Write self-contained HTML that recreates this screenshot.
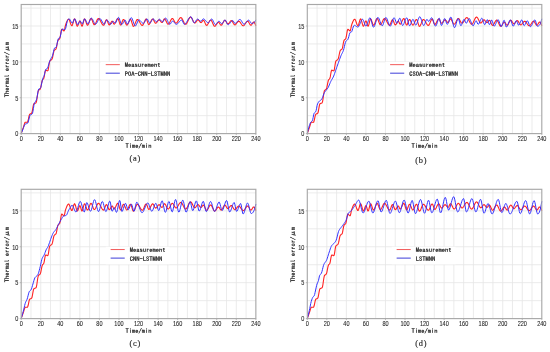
<!DOCTYPE html>
<html><head><meta charset="utf-8"><title>Thermal error</title>
<style>html,body{margin:0;padding:0;background:#fff;width:550px;height:352px;overflow:hidden}svg{display:block}</style>
</head><body>
<svg width="550" height="352" viewBox="0 0 550 352" shape-rendering="geometricPrecision">
<rect width="550" height="352" fill="#fff"/>
<g><path d="M30.98 4.5V133.6M40.75 4.5V133.6M50.53 4.5V133.6M60.31 4.5V133.6M70.09 4.5V133.6M79.86 4.5V133.6M89.64 4.5V133.6M99.42 4.5V133.6M109.19 4.5V133.6M118.97 4.5V133.6M128.75 4.5V133.6M138.53 4.5V133.6M148.3 4.5V133.6M158.08 4.5V133.6M167.86 4.5V133.6M177.63 4.5V133.6M187.41 4.5V133.6M197.19 4.5V133.6M206.96 4.5V133.6M216.74 4.5V133.6M226.52 4.5V133.6M236.3 4.5V133.6M246.07 4.5V133.6M21.2 115.67H255.85M21.2 97.74H255.85M21.2 79.81H255.85M21.2 61.88H255.85M21.2 43.95H255.85M21.2 26.02H255.85M21.2 8.09H255.85" stroke="#e6e6e6" stroke-width="0.8" fill="none"/>
<rect x="100.83" y="61.85" width="73.64" height="17.6" fill="#fff"/>
<polyline points="21.2,133.6 21.69,132.18 22.18,130.79 22.67,129.4 23.16,128.04 23.64,126.6 24.13,124.89 24.62,123.32 25.11,122.37 25.6,122.28 26.09,122.29 26.58,122.32 27.07,122.33 27.56,122.2 28.04,120.8 28.53,118.55 29.02,116.2 29.51,114.54 30,114.02 30.49,113.8 30.98,113.64 31.47,113.39 31.95,112.59 32.44,110.28 32.93,107.34 33.42,104.83 33.91,103.76 34.4,103.48 34.89,103.31 35.38,103.16 35.87,102.91 36.35,102.09 36.84,99.53 37.33,96.1 37.82,92.83 38.31,90.75 38.8,90.15 39.29,89.84 39.78,89.53 40.27,88.97 40.75,87.4 41.24,85.03 41.73,82.51 42.22,80.5 42.71,79.56 43.2,79.17 43.69,78.66 44.18,76.91 44.67,74.02 45.15,71.32 45.64,70.13 46.13,70.22 46.62,70.43 47.11,70.67 47.6,70.83 48.09,70.31 48.58,67.72 49.06,64.33 49.55,61.68 50.04,60.77 50.53,60.35 51.02,60.05 51.51,59.7 52,59.15 52.49,57.77 52.98,55.49 53.46,53.02 53.95,51.05 54.44,50.18 54.93,49.81 55.42,49.52 55.91,49.09 56.4,47.83 56.89,45.3 57.38,42.52 57.86,40.56 58.35,39.86 58.84,39.46 59.33,39.07 59.82,38.36 60.31,36.23 60.8,33.17 61.29,30.43 61.77,29.24 62.26,29.46 62.75,29.97 63.24,30.54 63.73,30.95 64.22,30.82 64.71,28.94 65.2,26.35 65.69,24.54 66.17,23.25 66.66,22.01 67.15,20.9 67.64,20.01 68.13,19.42 68.62,19.2 69.11,19.6 69.6,20.64 70.09,22.02 70.57,23.49 71.06,24.76 71.55,25.58 72.04,25.63 72.53,24.65 73.02,23.02 73.51,21.2 74,19.65 74.49,18.87 74.97,19.25 75.46,20.64 75.95,22.54 76.44,24.43 76.93,25.82 77.42,26.21 77.91,25.51 78.4,24.16 78.88,22.62 79.37,21.38 79.86,20.85 80.35,21.56 80.84,23.18 81.33,24.95 81.82,26.11 82.31,25.96 82.8,24.56 83.28,22.54 83.77,20.52 84.26,19.12 84.75,18.92 85.24,19.73 85.73,21.12 86.22,22.71 86.71,24.17 87.2,25.12 87.68,25.24 88.17,24.63 88.66,23.54 89.15,22.18 89.64,20.77 90.13,19.55 90.62,18.72 91.11,18.5 91.6,19 92.08,20.02 92.57,21.33 93.06,22.69 93.55,23.85 94.04,24.59 94.53,24.68 95.02,24.27 95.51,23.49 95.99,22.49 96.48,21.38 96.97,20.31 97.46,19.38 97.95,18.73 98.44,18.49 98.93,18.67 99.42,19.15 99.91,19.86 100.39,20.73 100.88,21.7 101.37,22.67 101.86,23.59 102.35,24.38 102.84,24.96 103.33,25.27 103.82,25.14 104.31,24.32 104.79,23.06 105.28,21.68 105.77,20.48 106.26,19.78 106.75,19.86 107.24,20.68 107.73,21.92 108.22,23.26 108.7,24.36 109.19,24.92 109.68,24.75 110.17,24.12 110.66,23.23 111.15,22.3 111.64,21.53 112.13,21.15 112.62,21.49 113.1,22.56 113.59,23.69 114.08,24.22 114.57,23.95 115.06,23.24 115.55,22.24 116.04,21.13 116.53,20.04 117.02,19.14 117.5,18.59 117.99,18.58 118.48,19.46 118.97,20.97 119.46,22.67 119.95,24.18 120.44,25.06 120.93,24.98 121.42,24.09 121.9,22.73 122.39,21.27 122.88,20.06 123.37,19.44 123.86,19.63 124.35,20.36 124.84,21.44 125.33,22.65 125.81,23.81 126.3,24.71 126.79,25.14 127.28,24.97 127.77,24.3 128.26,23.29 128.75,22.14 129.24,21 129.73,20.04 130.21,19.45 130.7,19.43 131.19,20.31 131.68,21.82 132.17,23.56 132.66,25.14 133.15,26.18 133.64,26.33 134.13,25.81 134.61,24.87 135.1,23.67 135.59,22.37 136.08,21.15 136.57,20.14 137.06,19.53 137.55,19.45 138.04,19.73 138.53,20.26 139.01,20.98 139.5,21.81 139.99,22.7 140.48,23.56 140.97,24.33 141.46,24.95 141.95,25.34 142.44,25.43 142.92,25.03 143.41,24.21 143.9,23.1 144.39,21.89 144.88,20.72 145.37,19.76 145.86,19.17 146.35,19.15 146.84,19.98 147.32,21.36 147.81,22.87 148.3,24.09 148.79,24.58 149.28,24.34 149.77,23.71 150.26,22.81 150.75,21.79 151.24,20.76 151.72,19.86 152.21,19.23 152.7,18.99 153.19,19.3 153.68,20.11 154.17,21.14 154.66,22.17 155.15,22.98 155.63,23.29 156.12,23.1 156.61,22.61 157.1,21.94 157.59,21.2 158.08,20.53 158.57,20.04 159.06,19.85 159.55,20.04 160.03,20.52 160.52,21.15 161.01,21.79 161.5,22.31 161.99,22.57 162.48,22.29 162.97,21.39 163.46,20.25 163.95,19.26 164.43,18.84 164.92,19.1 165.41,19.76 165.9,20.69 166.39,21.75 166.88,22.77 167.37,23.61 167.86,24.13 168.35,24.19 168.83,23.81 169.32,23.13 169.81,22.24 170.3,21.25 170.79,20.28 171.28,19.42 171.77,18.79 172.26,18.49 172.74,18.64 173.23,19.18 173.72,19.98 174.21,20.91 174.7,21.83 175.19,22.59 175.68,23.06 176.17,23.12 176.66,22.85 177.14,22.34 177.63,21.65 178.12,20.85 178.61,20.01 179.1,19.2 179.59,18.49 180.08,17.94 180.57,17.61 181.06,17.59 181.54,17.93 182.03,18.57 182.52,19.43 183.01,20.41 183.5,21.44 183.99,22.42 184.48,23.28 184.97,23.92 185.46,24.26 185.94,24.22 186.43,23.8 186.92,23.08 187.41,22.16 187.9,21.1 188.39,20.03 188.88,19 189.37,18.11 189.85,17.44 190.34,17.09 190.83,17.13 191.32,17.57 191.81,18.31 192.3,19.22 192.79,20.23 193.28,21.22 193.77,22.07 194.25,22.7 194.74,23 195.23,22.87 195.72,22.38 196.21,21.69 196.7,20.94 197.19,20.28 197.68,19.86 198.17,19.81 198.65,20.17 199.14,20.79 199.63,21.5 200.12,22.14 200.61,22.57 201.1,22.6 201.59,22.22 202.08,21.6 202.56,20.93 203.05,20.43 203.54,20.29 204.03,20.75 204.52,21.69 205.01,22.86 205.5,24.03 205.99,24.97 206.48,25.43 206.96,25.31 207.45,24.8 207.94,24.05 208.43,23.13 208.92,22.18 209.41,21.29 209.9,20.57 210.39,20.14 210.88,20.11 211.36,20.54 211.85,21.35 212.34,22.39 212.83,23.53 213.32,24.62 213.81,25.54 214.3,26.14 214.79,26.3 215.28,26.04 215.76,25.5 216.25,24.78 216.74,23.99 217.23,23.22 217.72,22.6 218.21,22.22 218.7,22.19 219.19,22.67 219.67,23.46 220.16,24.32 220.65,25.01 221.14,25.3 221.63,25.06 222.12,24.44 222.61,23.57 223.1,22.59 223.59,21.64 224.07,20.85 224.56,20.36 225.05,20.32 225.54,20.75 226.03,21.48 226.52,22.33 227.01,23.13 227.5,23.7 227.99,23.86 228.47,23.61 228.96,23.11 229.45,22.46 229.94,21.77 230.43,21.17 230.92,20.75 231.41,20.64 231.9,20.95 232.38,21.58 232.87,22.4 233.36,23.28 233.85,24.07 234.34,24.65 234.83,24.87 235.32,24.71 235.81,24.3 236.3,23.71 236.78,23.04 237.27,22.37 237.76,21.79 238.25,21.37 238.74,21.21 239.23,21.36 239.72,21.77 240.21,22.36 240.7,23.06 241.18,23.81 241.67,24.52 242.16,25.14 242.65,25.59 243.14,25.79 243.63,25.7 244.12,25.32 244.61,24.75 245.1,24.04 245.58,23.28 246.07,22.54 246.56,21.9 247.05,21.43 247.54,21.22 248.03,21.37 248.52,21.92 249.01,22.72 249.49,23.61 249.98,24.45 250.47,25.06 250.96,25.3 251.45,25.01 251.94,24.3 252.43,23.42 252.92,22.61 253.41,22.12 253.89,22.14 254.38,22.58 254.87,23.37 255.36,24.45 255.85,25.8" stroke="#ff2222" stroke-width="1.1" fill="none" stroke-linejoin="round"/>
<polyline points="21.2,133.6 21.69,132.36 22.18,131.13 22.67,129.92 23.16,128.72 23.64,127.38 24.13,125.97 24.62,124.8 25.11,124.21 25.6,123.95 26.09,123.8 26.58,123.67 27.07,123.52 27.56,123.26 28.04,122.55 28.53,120.95 29.02,118.91 29.51,116.91 30,115.41 30.49,114.81 30.98,114.56 31.47,114.4 31.95,114.17 32.44,113.6 32.93,111.53 33.42,108.5 33.91,105.43 34.4,103.23 34.89,102.29 35.38,101.63 35.87,100.84 36.35,99.9 36.84,98.28 37.33,95.69 37.82,92.82 38.31,90.34 38.8,88.94 39.29,88.69 39.78,88.59 40.27,88.41 40.75,87.5 41.24,85.6 41.73,83.21 42.22,80.81 42.71,78.88 43.2,77.68 43.69,76.7 44.18,75.42 44.67,73.49 45.15,71.39 45.64,69.7 46.13,69 46.62,68.86 47.11,68.69 47.6,67.97 48.09,66.59 48.58,64.9 49.06,63.24 49.55,61.84 50.04,60.46 50.53,59.31 51.02,58.45 51.51,57.7 52,56.89 52.49,55.76 52.98,53.91 53.46,51.7 53.95,49.63 54.44,48.18 54.93,47.76 55.42,47.66 55.91,47.53 56.4,46.65 56.89,44.76 57.38,42.43 57.86,40.2 58.35,38.61 58.84,38.13 59.33,38.02 59.82,37.85 60.31,36.63 60.8,34.16 61.29,31.45 61.77,29.49 62.26,29.11 62.75,29.17 63.24,29.28 63.73,29.4 64.22,29.52 64.71,29.59 65.2,29.48 65.69,28.26 66.17,26.18 66.66,23.78 67.15,21.58 67.64,20.14 68.13,19.51 68.62,19.04 69.11,18.84 69.6,19.11 70.09,19.79 70.57,20.7 71.06,21.67 71.55,22.51 72.04,23.05 72.53,23.05 73.02,22.19 73.51,20.85 74,19.57 74.49,18.87 74.97,19.07 75.46,19.89 75.95,21.07 76.44,22.36 76.93,23.54 77.42,24.35 77.91,24.56 78.4,23.98 78.88,22.9 79.37,21.79 79.86,21.08 80.35,21.13 80.84,21.8 81.33,22.71 81.82,23.52 82.31,23.86 82.8,23.26 83.28,21.84 83.77,20.24 84.26,19.08 84.75,18.89 85.24,19.4 85.73,20.28 86.22,21.35 86.71,22.43 87.2,23.31 87.68,23.81 88.17,23.75 88.66,23.14 89.15,22.16 89.64,21 90.13,19.83 90.62,18.85 91.11,18.24 91.6,18.17 92.08,18.58 92.57,19.34 93.06,20.31 93.55,21.39 94.04,22.44 94.53,23.35 95.02,23.99 95.51,24.22 95.99,24.02 96.48,23.47 96.97,22.67 97.46,21.74 97.95,20.77 98.44,19.86 98.93,19.11 99.42,18.62 99.91,18.49 100.39,18.77 100.88,19.35 101.37,20.14 101.86,21.07 102.35,22.02 102.84,22.9 103.33,23.63 103.82,24.09 104.31,24.2 104.79,23.64 105.28,22.57 105.77,21.34 106.26,20.34 106.75,19.92 107.24,20.1 107.73,20.57 108.22,21.23 108.7,21.99 109.19,22.77 109.68,23.46 110.17,23.97 110.66,24.22 111.15,23.99 111.64,23.25 112.13,22.33 112.62,21.58 113.1,21.37 113.59,21.68 114.08,22.25 114.57,22.82 115.06,23.13 115.55,22.93 116.04,22.16 116.53,21.03 117.02,19.78 117.5,18.61 117.99,17.75 118.48,17.41 118.97,17.85 119.46,18.99 119.95,20.51 120.44,22.12 120.93,23.52 121.42,24.42 121.9,24.54 122.39,24.13 122.88,23.39 123.37,22.49 123.86,21.57 124.35,20.79 124.84,20.3 125.33,20.3 125.81,21.15 126.3,22.44 126.79,23.64 127.28,24.15 127.77,23.89 128.26,23.18 128.75,22.17 129.24,21.01 129.73,19.83 130.21,18.78 130.7,18.01 131.19,17.64 131.68,17.85 132.17,18.66 132.66,19.89 133.15,21.36 133.64,22.88 134.13,24.28 134.61,25.36 135.1,25.96 135.59,25.9 136.08,25.28 136.57,24.27 137.06,23.05 137.55,21.83 138.04,20.77 138.53,20.05 139.01,19.86 139.5,20.02 139.99,20.39 140.48,20.89 140.97,21.46 141.46,22.06 141.95,22.61 142.44,23.06 142.92,23.36 143.41,23.43 143.9,23.11 144.39,22.46 144.88,21.6 145.37,20.68 145.86,19.82 146.35,19.17 146.84,18.85 147.32,19.05 147.81,19.76 148.3,20.75 148.79,21.79 149.28,22.64 149.77,23.06 150.26,22.9 150.75,22.3 151.24,21.44 151.72,20.48 152.21,19.62 152.7,19.02 153.19,18.85 153.68,19.08 154.17,19.55 154.66,20.15 155.15,20.77 155.63,21.31 156.12,21.65 156.61,21.68 157.1,21.4 157.59,20.92 158.08,20.34 158.57,19.78 159.06,19.37 159.55,19.2 160.03,19.4 160.52,19.89 161.01,20.53 161.5,21.17 161.99,21.66 162.48,21.86 162.97,21.63 163.46,21.04 163.95,20.24 164.43,19.41 164.92,18.68 165.41,18.21 165.9,18.17 166.39,18.61 166.88,19.42 167.37,20.46 167.86,21.59 168.35,22.68 168.83,23.6 169.32,24.2 169.81,24.36 170.3,24.02 170.79,23.36 171.28,22.55 171.77,21.78 172.26,21.23 172.74,21.08 173.23,21.3 173.72,21.77 174.21,22.39 174.7,23.05 175.19,23.66 175.68,24.14 176.17,24.36 176.66,24.3 177.14,24.07 177.63,23.69 178.12,23.2 178.61,22.65 179.1,22.06 179.59,21.48 180.08,20.96 180.57,20.51 181.06,20.18 181.54,20.01 182.03,20.15 182.52,20.98 183.01,22.18 183.5,23.38 183.99,24.21 184.48,24.35 184.97,24.13 185.46,23.71 185.94,23.13 186.43,22.43 186.92,21.63 187.41,20.79 187.9,19.93 188.39,19.1 188.88,18.34 189.37,17.68 189.85,17.15 190.34,16.81 190.83,16.69 191.32,17.05 191.81,17.96 192.3,19.2 192.79,20.54 193.28,21.73 193.77,22.55 194.25,22.78 194.74,22.5 195.23,21.91 195.72,21.16 196.21,20.37 196.7,19.67 197.19,19.2 197.68,19.07 198.17,19.25 198.65,19.63 199.14,20.12 199.63,20.62 200.12,21.02 200.61,21.26 201.1,21.19 201.59,20.73 202.08,20.06 202.56,19.4 203.05,18.94 203.54,18.87 204.03,19.06 204.52,19.43 205.01,19.92 205.5,20.49 205.99,21.08 206.48,21.64 206.96,22.14 207.45,22.5 207.94,22.7 208.43,22.65 208.92,22.28 209.41,21.68 209.9,20.96 210.39,20.24 210.88,19.6 211.36,19.18 211.85,19.07 212.34,19.45 212.83,20.24 213.32,21.26 213.81,22.38 214.3,23.41 214.79,24.19 215.28,24.57 215.76,24.47 216.25,24.08 216.74,23.5 217.23,22.83 217.72,22.17 218.21,21.61 218.7,21.28 219.19,21.25 219.67,21.57 220.16,22.12 220.65,22.76 221.14,23.34 221.63,23.72 222.12,23.74 222.61,23.28 223.1,22.48 223.59,21.53 224.07,20.65 224.56,20.03 225.05,19.86 225.54,20.3 226.03,21.18 226.52,22.29 227.01,23.39 227.5,24.27 227.99,24.71 228.47,24.64 228.96,24.32 229.45,23.82 229.94,23.21 230.43,22.55 230.92,21.88 231.41,21.28 231.9,20.82 232.38,20.54 232.87,20.56 233.36,21.15 233.85,22.06 234.34,22.94 234.83,23.42 235.32,23.37 235.81,23.11 236.3,22.72 236.78,22.22 237.27,21.66 237.76,21.08 238.25,20.53 238.74,20.05 239.23,19.68 239.72,19.45 240.21,19.45 240.7,19.81 241.18,20.44 241.67,21.25 242.16,22.14 242.65,22.98 243.14,23.66 243.63,24.07 244.12,24.13 244.61,23.93 245.1,23.55 245.58,23.04 246.07,22.45 246.56,21.84 247.05,21.25 247.54,20.74 248.03,20.36 248.52,20.16 249.01,20.23 249.49,20.72 249.98,21.46 250.47,22.27 250.96,22.98 251.45,23.39 251.94,23.42 252.43,23.35 252.92,23.2 253.41,22.95 253.89,22.61 254.38,22.14 254.87,21.55 255.36,20.81 255.85,19.92" stroke="#3333ff" stroke-width="1.0" fill="none" stroke-linejoin="round"/>
<path d="M105.72 64.65H119.83" stroke="#f04848" stroke-width="0.9"/>
<path d="M105.72 73.25H119.83" stroke="#7474e4" stroke-width="1.4"/>
<text transform="translate(124.83 66.65) scale(1 0.92)" style="font-family:'IPAGothic','Liberation Mono',monospace;font-size:6.5px;stroke:#262626;stroke-width:0.26px" fill="#262626">Measurement</text>
<text transform="translate(124.83 75.6) scale(1 0.92)" style="font-family:'IPAGothic','Liberation Mono',monospace;font-size:6.5px;stroke:#262626;stroke-width:0.26px" fill="#262626">POA-CNN-LSTMNN</text>
<rect x="21.2" y="4.5" width="234.65" height="129.1" stroke="#a8a8a8" stroke-width="1.15" fill="none"/>
<path d="M21.2 133.6v1.5M40.75 133.6v1.5M60.31 133.6v1.5M79.86 133.6v1.5M99.42 133.6v1.5M118.97 133.6v1.5M138.53 133.6v1.5M158.08 133.6v1.5M177.63 133.6v1.5M197.19 133.6v1.5M216.74 133.6v1.5M236.3 133.6v1.5M255.85 133.6v1.5M21.2 133.6h-1.5M21.2 97.74h-1.5M21.2 61.88h-1.5M21.2 26.02h-1.5" stroke="#a8a8a8" stroke-width="0.8"/>
<text transform="translate(21.2 141.45) scale(0.88 1)" text-anchor="middle" style="font-family:'Liberation Sans',Arial,sans-serif;font-size:6.3px;stroke:#262626;stroke-width:0.08px" fill="#262626">0</text>
<text transform="translate(40.75 141.45) scale(0.88 1)" text-anchor="middle" style="font-family:'Liberation Sans',Arial,sans-serif;font-size:6.3px;stroke:#262626;stroke-width:0.08px" fill="#262626">20</text>
<text transform="translate(60.31 141.45) scale(0.88 1)" text-anchor="middle" style="font-family:'Liberation Sans',Arial,sans-serif;font-size:6.3px;stroke:#262626;stroke-width:0.08px" fill="#262626">40</text>
<text transform="translate(79.86 141.45) scale(0.88 1)" text-anchor="middle" style="font-family:'Liberation Sans',Arial,sans-serif;font-size:6.3px;stroke:#262626;stroke-width:0.08px" fill="#262626">60</text>
<text transform="translate(99.42 141.45) scale(0.88 1)" text-anchor="middle" style="font-family:'Liberation Sans',Arial,sans-serif;font-size:6.3px;stroke:#262626;stroke-width:0.08px" fill="#262626">80</text>
<text transform="translate(118.97 141.45) scale(0.88 1)" text-anchor="middle" style="font-family:'Liberation Sans',Arial,sans-serif;font-size:6.3px;stroke:#262626;stroke-width:0.08px" fill="#262626">100</text>
<text transform="translate(138.53 141.45) scale(0.88 1)" text-anchor="middle" style="font-family:'Liberation Sans',Arial,sans-serif;font-size:6.3px;stroke:#262626;stroke-width:0.08px" fill="#262626">120</text>
<text transform="translate(158.08 141.45) scale(0.88 1)" text-anchor="middle" style="font-family:'Liberation Sans',Arial,sans-serif;font-size:6.3px;stroke:#262626;stroke-width:0.08px" fill="#262626">140</text>
<text transform="translate(177.63 141.45) scale(0.88 1)" text-anchor="middle" style="font-family:'Liberation Sans',Arial,sans-serif;font-size:6.3px;stroke:#262626;stroke-width:0.08px" fill="#262626">160</text>
<text transform="translate(197.19 141.45) scale(0.88 1)" text-anchor="middle" style="font-family:'Liberation Sans',Arial,sans-serif;font-size:6.3px;stroke:#262626;stroke-width:0.08px" fill="#262626">180</text>
<text transform="translate(216.74 141.45) scale(0.88 1)" text-anchor="middle" style="font-family:'Liberation Sans',Arial,sans-serif;font-size:6.3px;stroke:#262626;stroke-width:0.08px" fill="#262626">200</text>
<text transform="translate(236.3 141.45) scale(0.88 1)" text-anchor="middle" style="font-family:'Liberation Sans',Arial,sans-serif;font-size:6.3px;stroke:#262626;stroke-width:0.08px" fill="#262626">220</text>
<text transform="translate(255.85 141.45) scale(0.88 1)" text-anchor="middle" style="font-family:'Liberation Sans',Arial,sans-serif;font-size:6.3px;stroke:#262626;stroke-width:0.08px" fill="#262626">240</text>
<text transform="translate(18.3 136.4) scale(0.88 1)" text-anchor="end" style="font-family:'Liberation Sans',Arial,sans-serif;font-size:6.3px;stroke:#262626;stroke-width:0.08px" fill="#262626">0</text>
<text transform="translate(18.3 100.54) scale(0.88 1)" text-anchor="end" style="font-family:'Liberation Sans',Arial,sans-serif;font-size:6.3px;stroke:#262626;stroke-width:0.08px" fill="#262626">5</text>
<text transform="translate(18.3 64.68) scale(0.88 1)" text-anchor="end" style="font-family:'Liberation Sans',Arial,sans-serif;font-size:6.3px;stroke:#262626;stroke-width:0.08px" fill="#262626">10</text>
<text transform="translate(18.3 28.82) scale(0.88 1)" text-anchor="end" style="font-family:'Liberation Sans',Arial,sans-serif;font-size:6.3px;stroke:#262626;stroke-width:0.08px" fill="#262626">15</text>
<text transform="translate(138.53 148) scale(1 0.92)" text-anchor="middle" style="font-family:'IPAGothic','Liberation Mono',monospace;font-size:6.5px;stroke:#262626;stroke-width:0.26px" fill="#262626">Time/min</text>
<text transform="translate(8.9 69.65) rotate(-90) scale(1 0.92)" text-anchor="middle" style="font-family:'IPAGothic','Liberation Mono',monospace;font-size:6.5px;stroke:#262626;stroke-width:0.26px" fill="#262626">Thermal error/μm</text>
<text x="135.22" y="161" text-anchor="middle" style="font-family:'Liberation Serif','Times New Roman',serif;font-size:8.3px;letter-spacing:0.7px;stroke:#262626;stroke-width:0.15px" fill="#262626">(a)</text></g>
<g><path d="M317.07 4.5V133.6M326.84 4.5V133.6M336.61 4.5V133.6M346.38 4.5V133.6M356.15 4.5V133.6M365.93 4.5V133.6M375.7 4.5V133.6M385.47 4.5V133.6M395.24 4.5V133.6M405.01 4.5V133.6M414.78 4.5V133.6M424.55 4.5V133.6M434.32 4.5V133.6M444.09 4.5V133.6M453.86 4.5V133.6M463.63 4.5V133.6M473.4 4.5V133.6M483.17 4.5V133.6M492.95 4.5V133.6M502.72 4.5V133.6M512.49 4.5V133.6M522.26 4.5V133.6M532.03 4.5V133.6M307.3 115.67H541.8M307.3 97.74H541.8M307.3 79.81H541.8M307.3 61.88H541.8M307.3 43.95H541.8M307.3 26.02H541.8M307.3 8.09H541.8" stroke="#e6e6e6" stroke-width="0.8" fill="none"/>
<rect x="385.22" y="61.85" width="76.9" height="17.6" fill="#fff"/>
<polyline points="307.3,133.6 307.79,132.18 308.28,130.79 308.77,129.4 309.25,128.04 309.74,126.6 310.23,124.89 310.72,123.32 311.21,122.37 311.7,122.28 312.19,122.29 312.67,122.32 313.16,122.33 313.65,122.2 314.14,120.8 314.63,118.55 315.12,116.2 315.61,114.54 316.09,114.02 316.58,113.8 317.07,113.64 317.56,113.39 318.05,112.59 318.54,110.28 319.03,107.34 319.51,104.83 320,103.76 320.49,103.48 320.98,103.31 321.47,103.16 321.96,102.91 322.44,102.09 322.93,99.53 323.42,96.1 323.91,92.83 324.4,90.75 324.89,90.15 325.38,89.84 325.86,89.53 326.35,88.97 326.84,87.4 327.33,85.03 327.82,82.51 328.31,80.5 328.8,79.56 329.28,79.17 329.77,78.66 330.26,76.91 330.75,74.02 331.24,71.32 331.73,70.13 332.22,70.22 332.7,70.43 333.19,70.67 333.68,70.83 334.17,70.31 334.66,67.72 335.15,64.33 335.64,61.68 336.12,60.77 336.61,60.35 337.1,60.05 337.59,59.7 338.08,59.15 338.57,57.77 339.06,55.49 339.54,53.02 340.03,51.05 340.52,50.18 341.01,49.81 341.5,49.52 341.99,49.09 342.48,47.83 342.96,45.3 343.45,42.52 343.94,40.56 344.43,39.86 344.92,39.46 345.41,39.07 345.89,38.36 346.38,36.23 346.87,33.17 347.36,30.43 347.85,29.24 348.34,29.46 348.83,29.97 349.31,30.54 349.8,30.95 350.29,30.82 350.78,28.94 351.27,26.35 351.76,24.54 352.25,23.25 352.73,22.01 353.22,20.9 353.71,20.01 354.2,19.42 354.69,19.2 355.18,19.6 355.67,20.64 356.15,22.02 356.64,23.49 357.13,24.76 357.62,25.58 358.11,25.63 358.6,24.65 359.09,23.02 359.57,21.2 360.06,19.65 360.55,18.87 361.04,19.25 361.53,20.64 362.02,22.54 362.51,24.43 362.99,25.82 363.48,26.21 363.97,25.51 364.46,24.16 364.95,22.62 365.44,21.38 365.93,20.85 366.41,21.56 366.9,23.18 367.39,24.95 367.88,26.11 368.37,25.96 368.86,24.56 369.34,22.54 369.83,20.52 370.32,19.12 370.81,18.92 371.3,19.73 371.79,21.12 372.28,22.71 372.76,24.17 373.25,25.12 373.74,25.24 374.23,24.63 374.72,23.54 375.21,22.18 375.7,20.77 376.18,19.55 376.67,18.72 377.16,18.5 377.65,19 378.14,20.02 378.63,21.33 379.12,22.69 379.6,23.85 380.09,24.59 380.58,24.68 381.07,24.27 381.56,23.49 382.05,22.49 382.54,21.38 383.02,20.31 383.51,19.38 384,18.73 384.49,18.49 384.98,18.67 385.47,19.15 385.96,19.86 386.44,20.73 386.93,21.7 387.42,22.67 387.91,23.59 388.4,24.38 388.89,24.96 389.38,25.27 389.86,25.14 390.35,24.32 390.84,23.06 391.33,21.68 391.82,20.48 392.31,19.78 392.79,19.86 393.28,20.68 393.77,21.92 394.26,23.26 394.75,24.36 395.24,24.92 395.73,24.75 396.21,24.12 396.7,23.23 397.19,22.3 397.68,21.53 398.17,21.15 398.66,21.49 399.15,22.56 399.63,23.69 400.12,24.22 400.61,23.95 401.1,23.24 401.59,22.24 402.08,21.13 402.57,20.04 403.05,19.14 403.54,18.59 404.03,18.58 404.52,19.46 405.01,20.97 405.5,22.67 405.99,24.18 406.47,25.06 406.96,24.98 407.45,24.09 407.94,22.73 408.43,21.27 408.92,20.06 409.41,19.44 409.89,19.63 410.38,20.36 410.87,21.44 411.36,22.65 411.85,23.81 412.34,24.71 412.82,25.14 413.31,24.97 413.8,24.3 414.29,23.29 414.78,22.14 415.27,21 415.76,20.04 416.24,19.45 416.73,19.43 417.22,20.31 417.71,21.82 418.2,23.56 418.69,25.14 419.18,26.18 419.66,26.33 420.15,25.81 420.64,24.87 421.13,23.67 421.62,22.37 422.11,21.15 422.6,20.14 423.08,19.53 423.57,19.45 424.06,19.73 424.55,20.26 425.04,20.98 425.53,21.81 426.02,22.7 426.5,23.56 426.99,24.33 427.48,24.95 427.97,25.34 428.46,25.43 428.95,25.03 429.44,24.21 429.92,23.1 430.41,21.89 430.9,20.72 431.39,19.76 431.88,19.17 432.37,19.15 432.86,19.98 433.34,21.36 433.83,22.87 434.32,24.09 434.81,24.58 435.3,24.34 435.79,23.71 436.27,22.81 436.76,21.79 437.25,20.76 437.74,19.86 438.23,19.23 438.72,18.99 439.21,19.3 439.69,20.11 440.18,21.14 440.67,22.17 441.16,22.98 441.65,23.29 442.14,23.1 442.63,22.61 443.11,21.94 443.6,21.2 444.09,20.53 444.58,20.04 445.07,19.85 445.56,20.04 446.05,20.52 446.53,21.15 447.02,21.79 447.51,22.31 448,22.57 448.49,22.29 448.98,21.39 449.47,20.25 449.95,19.26 450.44,18.84 450.93,19.1 451.42,19.76 451.91,20.69 452.4,21.75 452.89,22.77 453.37,23.61 453.86,24.13 454.35,24.19 454.84,23.81 455.33,23.13 455.82,22.24 456.31,21.25 456.79,20.28 457.28,19.42 457.77,18.79 458.26,18.49 458.75,18.64 459.24,19.18 459.72,19.98 460.21,20.91 460.7,21.83 461.19,22.59 461.68,23.06 462.17,23.12 462.66,22.85 463.14,22.34 463.63,21.65 464.12,20.85 464.61,20.01 465.1,19.2 465.59,18.49 466.08,17.94 466.56,17.61 467.05,17.59 467.54,17.93 468.03,18.57 468.52,19.43 469.01,20.41 469.5,21.44 469.98,22.42 470.47,23.28 470.96,23.92 471.45,24.26 471.94,24.22 472.43,23.8 472.92,23.08 473.4,22.16 473.89,21.1 474.38,20.03 474.87,19 475.36,18.11 475.85,17.44 476.34,17.09 476.82,17.13 477.31,17.57 477.8,18.31 478.29,19.22 478.78,20.23 479.27,21.22 479.76,22.07 480.24,22.7 480.73,23 481.22,22.87 481.71,22.38 482.2,21.69 482.69,20.94 483.17,20.28 483.66,19.86 484.15,19.81 484.64,20.17 485.13,20.79 485.62,21.5 486.11,22.14 486.59,22.57 487.08,22.6 487.57,22.22 488.06,21.6 488.55,20.93 489.04,20.43 489.53,20.29 490.01,20.75 490.5,21.69 490.99,22.86 491.48,24.03 491.97,24.97 492.46,25.43 492.95,25.31 493.43,24.8 493.92,24.05 494.41,23.13 494.9,22.18 495.39,21.29 495.88,20.57 496.37,20.14 496.85,20.11 497.34,20.54 497.83,21.35 498.32,22.39 498.81,23.53 499.3,24.62 499.79,25.54 500.27,26.14 500.76,26.3 501.25,26.04 501.74,25.5 502.23,24.78 502.72,23.99 503.21,23.22 503.69,22.6 504.18,22.22 504.67,22.19 505.16,22.67 505.65,23.46 506.14,24.32 506.62,25.01 507.11,25.3 507.6,25.06 508.09,24.44 508.58,23.57 509.07,22.59 509.56,21.64 510.04,20.85 510.53,20.36 511.02,20.32 511.51,20.75 512,21.48 512.49,22.33 512.98,23.13 513.46,23.7 513.95,23.86 514.44,23.61 514.93,23.11 515.42,22.46 515.91,21.77 516.4,21.17 516.88,20.75 517.37,20.64 517.86,20.95 518.35,21.58 518.84,22.4 519.33,23.28 519.82,24.07 520.3,24.65 520.79,24.87 521.28,24.71 521.77,24.3 522.26,23.71 522.75,23.04 523.24,22.37 523.72,21.79 524.21,21.37 524.7,21.21 525.19,21.36 525.68,21.77 526.17,22.36 526.66,23.06 527.14,23.81 527.63,24.52 528.12,25.14 528.61,25.59 529.1,25.79 529.59,25.7 530.07,25.32 530.56,24.75 531.05,24.04 531.54,23.28 532.03,22.54 532.52,21.9 533.01,21.43 533.49,21.22 533.98,21.37 534.47,21.92 534.96,22.72 535.45,23.61 535.94,24.45 536.43,25.06 536.91,25.3 537.4,25.01 537.89,24.3 538.38,23.42 538.87,22.61 539.36,22.12 539.85,22.14 540.33,22.58 540.82,23.37 541.31,24.45 541.8,25.8" stroke="#ff2222" stroke-width="1.1" fill="none" stroke-linejoin="round"/>
<polyline points="307.3,133.6 307.79,131.32 308.28,129.25 308.77,127.43 309.25,125.87 309.74,124.41 310.23,123.17 310.72,122.27 311.21,121.74 311.7,121.37 312.19,120.9 312.67,119.81 313.16,117.47 313.65,114.89 314.14,113.23 314.63,112.64 315.12,112.27 315.61,111.8 316.09,110.67 316.58,108.24 317.07,105.59 317.56,103.89 318.05,102.89 318.54,102.1 319.03,101.47 319.51,100.97 320,100.62 320.49,100.32 320.98,99.99 321.47,99.53 321.96,98.76 322.44,97.66 322.93,96.35 323.42,95 323.91,93.74 324.4,92.72 324.89,91.93 325.38,91.24 325.86,90.62 326.35,90.02 326.84,89.42 327.33,88.77 327.82,88.03 328.31,87.15 328.8,86.11 329.28,84.97 329.77,83.77 330.26,82.6 330.75,81.52 331.24,80.56 331.73,79.7 332.22,78.88 332.7,78.04 333.19,77.12 333.68,76.07 334.17,74.82 334.66,73.41 335.15,71.93 335.64,70.47 336.12,69.09 336.61,67.71 337.1,66.34 337.59,64.98 338.08,63.63 338.57,62.27 339.06,60.88 339.54,59.51 340.03,58.16 340.52,56.86 341.01,55.63 341.5,54.48 341.99,53.51 342.48,52.6 342.96,51.61 343.45,50.34 343.94,48.52 344.43,46.39 344.92,44.26 345.41,42.45 345.89,41.29 346.38,40.73 346.87,40.35 347.36,39.97 347.85,39.43 348.34,38.28 348.83,36.52 349.31,34.62 349.8,33.07 350.29,32.33 350.78,32.22 351.27,32.11 351.76,31.49 352.25,30.19 352.73,28.58 353.22,26.99 353.71,25.78 354.2,25.3 354.69,25.43 355.18,25.66 355.67,25.92 356.15,26.25 356.64,26.58 357.13,26.88 357.62,27.06 358.11,27.05 358.6,26.64 359.09,25.87 359.57,24.85 360.06,23.67 360.55,22.45 361.04,21.3 361.53,20.31 362.02,19.61 362.51,19.28 362.99,19.54 363.48,20.47 363.97,21.81 364.46,23.32 364.95,24.73 365.44,25.76 365.93,26.16 366.41,25.82 366.9,24.9 367.39,23.61 367.88,22.11 368.37,20.6 368.86,19.25 369.34,18.26 369.83,17.78 370.32,18.08 370.81,19.17 371.3,20.81 371.79,22.7 372.28,24.55 372.76,26.1 373.25,27.06 373.74,27.18 374.23,26.6 374.72,25.51 375.21,24.09 375.7,22.49 376.18,20.87 376.67,19.4 377.16,18.23 377.65,17.53 378.14,17.46 378.63,17.98 379.12,18.94 379.6,20.2 380.09,21.61 380.58,23.01 381.07,24.27 381.56,25.23 382.05,25.75 382.54,25.64 383.02,24.8 383.51,23.42 384,21.78 384.49,20.11 384.98,18.66 385.47,17.68 385.96,17.42 386.44,17.83 386.93,18.72 387.42,19.94 387.91,21.35 388.4,22.8 388.89,24.14 389.38,25.25 389.86,25.97 390.35,26.15 390.84,25.62 391.33,24.53 391.82,23.08 392.31,21.48 392.79,19.94 393.28,18.68 393.77,17.91 394.26,17.84 394.75,18.58 395.24,19.82 395.73,21.24 396.21,22.48 396.7,23.22 397.19,23.15 397.68,22.39 398.17,21.25 398.66,19.99 399.15,18.9 399.63,18.26 400.12,18.41 400.61,19.56 401.1,21.29 401.59,23.15 402.08,24.7 402.57,25.49 403.05,25.31 403.54,24.56 404.03,23.42 404.52,22.06 405.01,20.66 405.5,19.37 405.99,18.37 406.47,17.82 406.96,17.99 407.45,19.17 407.94,20.99 408.43,22.98 408.92,24.7 409.41,25.7 409.89,25.66 410.38,24.89 410.87,23.67 411.36,22.25 411.85,20.88 412.34,19.81 412.82,19.29 413.31,19.58 413.8,20.61 414.29,22.03 414.78,23.48 415.27,24.63 415.76,25.08 416.24,24.74 416.73,23.83 417.22,22.54 417.71,21.04 418.2,19.53 418.69,18.18 419.18,17.18 419.66,16.71 420.15,16.93 420.64,17.78 421.13,19.07 421.62,20.62 422.11,22.22 422.6,23.69 423.08,24.83 423.57,25.46 424.06,25.37 424.55,24.59 425.04,23.37 425.53,21.97 426.02,20.64 426.5,19.66 426.99,19.27 427.48,19.73 427.97,20.63 428.46,21.35 428.95,21.33 429.44,20.79 429.92,19.96 430.41,19.06 430.9,18.27 431.39,17.81 431.88,17.9 432.37,18.6 432.86,19.76 433.34,21.2 433.83,22.72 434.32,24.17 434.81,25.33 435.3,26.03 435.79,26.1 436.27,25.41 436.76,24.19 437.25,22.66 437.74,21.06 438.23,19.63 438.72,18.59 439.21,18.2 439.69,19.09 440.18,21.15 440.67,23.48 441.16,25.17 441.65,25.44 442.14,24.71 442.63,23.42 443.11,21.88 443.6,20.36 444.09,19.17 444.58,18.58 445.07,18.93 445.56,20.16 446.05,21.8 446.53,23.33 447.02,24.27 447.51,24.23 448,23.49 448.49,22.29 448.98,20.86 449.47,19.4 449.95,18.14 450.44,17.29 450.93,17.07 451.42,17.76 451.91,19.2 452.4,21.11 452.89,23.19 453.37,25.16 453.86,26.72 454.35,27.58 454.84,27.49 455.33,26.58 455.82,25.08 456.31,23.3 456.79,21.48 457.28,19.91 457.77,18.85 458.26,18.59 458.75,19.4 459.24,20.98 459.72,22.86 460.21,24.55 460.7,25.56 461.19,25.51 461.68,24.71 462.17,23.46 462.66,22.03 463.14,20.68 463.63,19.67 464.12,19.27 464.61,19.85 465.1,21.14 465.59,22.5 466.08,23.26 466.56,23.06 467.05,22.27 467.54,21.16 468.03,20 468.52,19.05 469.01,18.57 469.5,18.75 469.98,19.45 470.47,20.52 470.96,21.79 471.45,23.1 471.94,24.3 472.43,25.24 472.92,25.75 473.4,25.66 473.89,24.9 474.38,23.76 474.87,22.5 475.36,21.41 475.85,20.77 476.34,20.9 476.82,21.81 477.31,23.03 477.8,24.05 478.29,24.35 478.78,23.93 479.27,23.05 479.76,21.91 480.24,20.66 480.73,19.51 481.22,18.64 481.71,18.21 482.2,18.51 482.69,19.61 483.17,21.14 483.66,22.74 484.15,24.04 484.64,24.7 485.13,24.4 485.62,23.32 486.11,21.89 486.59,20.54 487.08,19.72 487.57,19.87 488.06,21.05 488.55,22.67 489.04,24.11 489.53,24.73 490.01,24.1 490.5,22.68 490.99,21.13 491.48,20.1 491.97,20.22 492.46,21.38 492.95,23.08 493.43,24.77 493.92,25.93 494.41,26.11 494.9,25.61 495.39,24.7 495.88,23.55 496.37,22.32 496.85,21.16 497.34,20.26 497.83,19.76 498.32,19.86 498.81,20.68 499.3,21.98 499.79,23.49 500.27,24.95 500.76,26.09 501.25,26.65 501.74,26.31 502.23,25.11 502.72,23.47 503.21,21.84 503.69,20.63 504.18,20.31 504.67,21.43 505.16,23.46 505.65,25.59 506.14,26.95 506.62,26.98 507.11,26.4 507.6,25.44 508.09,24.24 508.58,22.95 509.07,21.73 509.56,20.7 510.04,20.04 510.53,19.87 511.02,20.59 511.51,22.01 512,23.68 512.49,25.18 512.98,26.07 513.46,26.03 513.95,25.36 514.44,24.29 514.93,23.06 515.42,21.91 515.91,21.05 516.4,20.71 516.88,21.25 517.37,22.53 517.86,23.97 518.35,25.02 518.84,25.17 519.33,24.57 519.82,23.53 520.3,22.29 520.79,21.1 521.28,20.2 521.77,19.85 522.26,20.51 522.75,22.06 523.24,23.87 523.72,25.29 524.21,25.72 524.7,25.26 525.19,24.36 525.68,23.22 526.17,22.08 526.66,21.18 527.14,20.72 527.63,20.95 528.12,21.8 528.61,23.01 529.1,24.36 529.59,25.57 530.07,26.42 530.56,26.65 531.05,26.35 531.54,25.68 532.03,24.76 532.52,23.7 533.01,22.6 533.49,21.55 533.98,20.67 534.47,20.07 534.96,19.85 535.45,20.56 535.94,22.22 536.43,24.17 536.91,25.69 537.4,26.16 537.89,26.12 538.38,25.98 538.87,25.7 539.36,25.25 539.85,24.58 540.33,23.64 540.82,22.4 541.31,20.82 541.8,18.84" stroke="#3333ff" stroke-width="1.0" fill="none" stroke-linejoin="round"/>
<path d="M390.12 64.65H404.22" stroke="#f04848" stroke-width="0.9"/>
<path d="M390.12 73.25H404.22" stroke="#7474e4" stroke-width="1.4"/>
<text transform="translate(409.22 66.65) scale(1 0.92)" style="font-family:'IPAGothic','Liberation Mono',monospace;font-size:6.5px;stroke:#262626;stroke-width:0.26px" fill="#262626">Measurement</text>
<text transform="translate(409.22 75.6) scale(1 0.92)" style="font-family:'IPAGothic','Liberation Mono',monospace;font-size:6.5px;stroke:#262626;stroke-width:0.26px" fill="#262626">CSOA-CNN-LSTMNN</text>
<rect x="307.3" y="4.5" width="234.5" height="129.1" stroke="#a8a8a8" stroke-width="1.15" fill="none"/>
<path d="M307.3 133.6v1.5M326.84 133.6v1.5M346.38 133.6v1.5M365.93 133.6v1.5M385.47 133.6v1.5M405.01 133.6v1.5M424.55 133.6v1.5M444.09 133.6v1.5M463.63 133.6v1.5M483.17 133.6v1.5M502.72 133.6v1.5M522.26 133.6v1.5M541.8 133.6v1.5M307.3 133.6h-1.5M307.3 97.74h-1.5M307.3 61.88h-1.5M307.3 26.02h-1.5" stroke="#a8a8a8" stroke-width="0.8"/>
<text transform="translate(307.3 141.45) scale(0.88 1)" text-anchor="middle" style="font-family:'Liberation Sans',Arial,sans-serif;font-size:6.3px;stroke:#262626;stroke-width:0.08px" fill="#262626">0</text>
<text transform="translate(326.84 141.45) scale(0.88 1)" text-anchor="middle" style="font-family:'Liberation Sans',Arial,sans-serif;font-size:6.3px;stroke:#262626;stroke-width:0.08px" fill="#262626">20</text>
<text transform="translate(346.38 141.45) scale(0.88 1)" text-anchor="middle" style="font-family:'Liberation Sans',Arial,sans-serif;font-size:6.3px;stroke:#262626;stroke-width:0.08px" fill="#262626">40</text>
<text transform="translate(365.93 141.45) scale(0.88 1)" text-anchor="middle" style="font-family:'Liberation Sans',Arial,sans-serif;font-size:6.3px;stroke:#262626;stroke-width:0.08px" fill="#262626">60</text>
<text transform="translate(385.47 141.45) scale(0.88 1)" text-anchor="middle" style="font-family:'Liberation Sans',Arial,sans-serif;font-size:6.3px;stroke:#262626;stroke-width:0.08px" fill="#262626">80</text>
<text transform="translate(405.01 141.45) scale(0.88 1)" text-anchor="middle" style="font-family:'Liberation Sans',Arial,sans-serif;font-size:6.3px;stroke:#262626;stroke-width:0.08px" fill="#262626">100</text>
<text transform="translate(424.55 141.45) scale(0.88 1)" text-anchor="middle" style="font-family:'Liberation Sans',Arial,sans-serif;font-size:6.3px;stroke:#262626;stroke-width:0.08px" fill="#262626">120</text>
<text transform="translate(444.09 141.45) scale(0.88 1)" text-anchor="middle" style="font-family:'Liberation Sans',Arial,sans-serif;font-size:6.3px;stroke:#262626;stroke-width:0.08px" fill="#262626">140</text>
<text transform="translate(463.63 141.45) scale(0.88 1)" text-anchor="middle" style="font-family:'Liberation Sans',Arial,sans-serif;font-size:6.3px;stroke:#262626;stroke-width:0.08px" fill="#262626">160</text>
<text transform="translate(483.17 141.45) scale(0.88 1)" text-anchor="middle" style="font-family:'Liberation Sans',Arial,sans-serif;font-size:6.3px;stroke:#262626;stroke-width:0.08px" fill="#262626">180</text>
<text transform="translate(502.72 141.45) scale(0.88 1)" text-anchor="middle" style="font-family:'Liberation Sans',Arial,sans-serif;font-size:6.3px;stroke:#262626;stroke-width:0.08px" fill="#262626">200</text>
<text transform="translate(522.26 141.45) scale(0.88 1)" text-anchor="middle" style="font-family:'Liberation Sans',Arial,sans-serif;font-size:6.3px;stroke:#262626;stroke-width:0.08px" fill="#262626">220</text>
<text transform="translate(541.8 141.45) scale(0.88 1)" text-anchor="middle" style="font-family:'Liberation Sans',Arial,sans-serif;font-size:6.3px;stroke:#262626;stroke-width:0.08px" fill="#262626">240</text>
<text transform="translate(304.4 136.4) scale(0.88 1)" text-anchor="end" style="font-family:'Liberation Sans',Arial,sans-serif;font-size:6.3px;stroke:#262626;stroke-width:0.08px" fill="#262626">0</text>
<text transform="translate(304.4 100.54) scale(0.88 1)" text-anchor="end" style="font-family:'Liberation Sans',Arial,sans-serif;font-size:6.3px;stroke:#262626;stroke-width:0.08px" fill="#262626">5</text>
<text transform="translate(304.4 64.68) scale(0.88 1)" text-anchor="end" style="font-family:'Liberation Sans',Arial,sans-serif;font-size:6.3px;stroke:#262626;stroke-width:0.08px" fill="#262626">10</text>
<text transform="translate(304.4 28.82) scale(0.88 1)" text-anchor="end" style="font-family:'Liberation Sans',Arial,sans-serif;font-size:6.3px;stroke:#262626;stroke-width:0.08px" fill="#262626">15</text>
<text transform="translate(424.55 148) scale(1 0.92)" text-anchor="middle" style="font-family:'IPAGothic','Liberation Mono',monospace;font-size:6.5px;stroke:#262626;stroke-width:0.26px" fill="#262626">Time/min</text>
<text transform="translate(295 69.65) rotate(-90) scale(1 0.92)" text-anchor="middle" style="font-family:'IPAGothic','Liberation Mono',monospace;font-size:6.5px;stroke:#262626;stroke-width:0.26px" fill="#262626">Thermal error/μm</text>
<text x="421.25" y="163.2" text-anchor="middle" style="font-family:'Liberation Serif','Times New Roman',serif;font-size:8.3px;letter-spacing:0.7px;stroke:#262626;stroke-width:0.15px" fill="#262626">(b)</text></g>
<g><path d="M30.98 189.3V318.6M40.75 189.3V318.6M50.53 189.3V318.6M60.31 189.3V318.6M70.09 189.3V318.6M79.86 189.3V318.6M89.64 189.3V318.6M99.42 189.3V318.6M109.19 189.3V318.6M118.97 189.3V318.6M128.75 189.3V318.6M138.53 189.3V318.6M148.3 189.3V318.6M158.08 189.3V318.6M167.86 189.3V318.6M177.63 189.3V318.6M187.41 189.3V318.6M197.19 189.3V318.6M206.96 189.3V318.6M216.74 189.3V318.6M226.52 189.3V318.6M236.3 189.3V318.6M246.07 189.3V318.6M21.2 300.64H255.85M21.2 282.68H255.85M21.2 264.73H255.85M21.2 246.77H255.85M21.2 228.81H255.85M21.2 210.85H255.85M21.2 192.89H255.85" stroke="#e6e6e6" stroke-width="0.8" fill="none"/>
<rect x="105.72" y="246.75" width="63.86" height="17.6" fill="#fff"/>
<polyline points="21.2,318.6 21.69,317.18 22.18,315.78 22.67,314.4 23.16,313.03 23.64,311.59 24.13,309.87 24.62,308.3 25.11,307.35 25.6,307.26 26.09,307.27 26.58,307.3 27.07,307.31 27.56,307.18 28.04,305.78 28.53,303.52 29.02,301.17 29.51,299.51 30,298.99 30.49,298.77 30.98,298.61 31.47,298.36 31.95,297.55 32.44,295.24 32.93,292.3 33.42,289.78 33.91,288.71 34.4,288.43 34.89,288.26 35.38,288.11 35.87,287.86 36.35,287.04 36.84,284.48 37.33,281.04 37.82,277.76 38.31,275.68 38.8,275.08 39.29,274.77 39.78,274.47 40.27,273.91 40.75,272.33 41.24,269.95 41.73,267.43 42.22,265.41 42.71,264.48 43.2,264.09 43.69,263.58 44.18,261.82 44.67,258.93 45.15,256.23 45.64,255.03 46.13,255.12 46.62,255.34 47.11,255.57 47.6,255.73 48.09,255.21 48.58,252.62 49.06,249.22 49.55,246.57 50.04,245.66 50.53,245.24 51.02,244.93 51.51,244.59 52,244.04 52.49,242.65 52.98,240.37 53.46,237.9 53.95,235.93 54.44,235.05 54.93,234.68 55.42,234.39 55.91,233.96 56.4,232.7 56.89,230.17 57.38,227.38 57.86,225.42 58.35,224.71 58.84,224.32 59.33,223.92 59.82,223.21 60.31,221.08 60.8,218.02 61.29,215.27 61.77,214.08 62.26,214.3 62.75,214.81 63.24,215.38 63.73,215.79 64.22,215.66 64.71,213.78 65.2,211.18 65.69,209.37 66.17,208.08 66.66,206.83 67.15,205.73 67.64,204.84 68.13,204.24 68.62,204.03 69.11,204.43 69.6,205.46 70.09,206.85 70.57,208.32 71.06,209.59 71.55,210.41 72.04,210.46 72.53,209.49 73.02,207.85 73.51,206.02 74,204.48 74.49,203.7 74.97,204.08 75.46,205.47 75.95,207.37 76.44,209.26 76.93,210.66 77.42,211.04 77.91,210.34 78.4,208.99 78.88,207.45 79.37,206.2 79.86,205.68 80.35,206.39 80.84,208.01 81.33,209.78 81.82,210.94 82.31,210.79 82.8,209.39 83.28,207.37 83.77,205.34 84.26,203.94 84.75,203.75 85.24,204.56 85.73,205.94 86.22,207.54 86.71,209 87.2,209.95 87.68,210.07 88.17,209.46 88.66,208.36 89.15,207.01 89.64,205.6 90.13,204.37 90.62,203.54 91.11,203.32 91.6,203.82 92.08,204.84 92.57,206.16 93.06,207.52 93.55,208.68 94.04,209.42 94.53,209.51 95.02,209.1 95.51,208.32 95.99,207.32 96.48,206.21 96.97,205.13 97.46,204.2 97.95,203.55 98.44,203.31 98.93,203.49 99.42,203.97 99.91,204.69 100.39,205.56 100.88,206.53 101.37,207.5 101.86,208.42 102.35,209.21 102.84,209.79 103.33,210.1 103.82,209.97 104.31,209.15 104.79,207.89 105.28,206.5 105.77,205.3 106.26,204.6 106.75,204.69 107.24,205.51 107.73,206.75 108.22,208.08 108.7,209.19 109.19,209.75 109.68,209.59 110.17,208.95 110.66,208.06 111.15,207.13 111.64,206.36 112.13,205.98 112.62,206.32 113.1,207.39 113.59,208.52 114.08,209.05 114.57,208.78 115.06,208.07 115.55,207.07 116.04,205.95 116.53,204.87 117.02,203.96 117.5,203.41 117.99,203.4 118.48,204.28 118.97,205.79 119.46,207.5 119.95,209.01 120.44,209.89 120.93,209.82 121.42,208.92 121.9,207.56 122.39,206.09 122.88,204.88 123.37,204.26 123.86,204.45 124.35,205.18 124.84,206.27 125.33,207.48 125.81,208.64 126.3,209.54 126.79,209.97 127.28,209.8 127.77,209.13 128.26,208.12 128.75,206.96 129.24,205.82 129.73,204.87 130.21,204.28 130.7,204.26 131.19,205.14 131.68,206.65 132.17,208.39 132.66,209.97 133.15,211.02 133.64,211.16 134.13,210.64 134.61,209.7 135.1,208.5 135.59,207.2 136.08,205.97 136.57,204.97 137.06,204.36 137.55,204.27 138.04,204.55 138.53,205.09 139.01,205.81 139.5,206.64 139.99,207.52 140.48,208.39 140.97,209.16 141.46,209.78 141.95,210.17 142.44,210.26 142.92,209.87 143.41,209.04 143.9,207.93 144.39,206.71 144.88,205.54 145.37,204.58 145.86,203.99 146.35,203.97 146.84,204.8 147.32,206.19 147.81,207.7 148.3,208.92 148.79,209.41 149.28,209.17 149.77,208.54 150.26,207.64 150.75,206.61 151.24,205.58 151.72,204.69 152.21,204.05 152.7,203.81 153.19,204.13 153.68,204.93 154.17,205.97 154.66,207 155.15,207.8 155.63,208.12 156.12,207.93 156.61,207.44 157.1,206.76 157.59,206.03 158.08,205.35 158.57,204.87 159.06,204.67 159.55,204.86 160.03,205.34 160.52,205.97 161.01,206.61 161.5,207.14 161.99,207.39 162.48,207.12 162.97,206.22 163.46,205.07 163.95,204.08 164.43,203.67 164.92,203.93 165.41,204.59 165.9,205.52 166.39,206.58 166.88,207.6 167.37,208.44 167.86,208.96 168.35,209.02 168.83,208.64 169.32,207.96 169.81,207.07 170.3,206.08 170.79,205.1 171.28,204.24 171.77,203.61 172.26,203.31 172.74,203.46 173.23,204 173.72,204.81 174.21,205.74 174.7,206.65 175.19,207.42 175.68,207.89 176.17,207.95 176.66,207.67 177.14,207.16 177.63,206.48 178.12,205.68 178.61,204.84 179.1,204.03 179.59,203.31 180.08,202.76 180.57,202.43 181.06,202.41 181.54,202.75 182.03,203.39 182.52,204.25 183.01,205.23 183.5,206.27 183.99,207.25 184.48,208.11 184.97,208.75 185.46,209.09 185.94,209.05 186.43,208.63 186.92,207.91 187.41,206.99 187.9,205.93 188.39,204.85 188.88,203.82 189.37,202.93 189.85,202.26 190.34,201.91 190.83,201.95 191.32,202.39 191.81,203.13 192.3,204.05 192.79,205.05 193.28,206.04 193.77,206.9 194.25,207.53 194.74,207.83 195.23,207.7 195.72,207.21 196.21,206.52 196.7,205.76 197.19,205.1 197.68,204.68 198.17,204.64 198.65,205 199.14,205.61 199.63,206.32 200.12,206.97 200.61,207.39 201.1,207.43 201.59,207.05 202.08,206.43 202.56,205.76 203.05,205.25 203.54,205.12 204.03,205.58 204.52,206.52 205.01,207.69 205.5,208.86 205.99,209.8 206.48,210.26 206.96,210.14 207.45,209.64 207.94,208.88 208.43,207.96 208.92,207.01 209.41,206.12 209.9,205.4 210.39,204.97 210.88,204.93 211.36,205.37 211.85,206.18 212.34,207.22 212.83,208.36 213.32,209.45 213.81,210.37 214.3,210.97 214.79,211.13 215.28,210.87 215.76,210.33 216.25,209.61 216.74,208.82 217.23,208.05 217.72,207.42 218.21,207.04 218.7,207.02 219.19,207.5 219.67,208.29 220.16,209.15 220.65,209.84 221.14,210.13 221.63,209.89 222.12,209.27 222.61,208.4 223.1,207.42 223.59,206.47 224.07,205.68 224.56,205.19 225.05,205.15 225.54,205.57 226.03,206.3 226.52,207.16 227.01,207.96 227.5,208.53 227.99,208.69 228.47,208.44 228.96,207.94 229.45,207.29 229.94,206.6 230.43,205.99 230.92,205.58 231.41,205.47 231.9,205.78 232.38,206.41 232.87,207.23 233.36,208.11 233.85,208.9 234.34,209.48 234.83,209.7 235.32,209.54 235.81,209.13 236.3,208.54 236.78,207.87 237.27,207.19 237.76,206.61 238.25,206.2 238.74,206.04 239.23,206.19 239.72,206.6 240.21,207.19 240.7,207.89 241.18,208.64 241.67,209.36 242.16,209.97 242.65,210.42 243.14,210.63 243.63,210.53 244.12,210.15 244.61,209.58 245.1,208.87 245.58,208.11 246.07,207.37 246.56,206.73 247.05,206.26 247.54,206.04 248.03,206.2 248.52,206.75 249.01,207.55 249.49,208.44 249.98,209.28 250.47,209.89 250.96,210.13 251.45,209.84 251.94,209.13 252.43,208.25 252.92,207.44 253.41,206.95 253.89,206.97 254.38,207.41 254.87,208.2 255.36,209.28 255.85,210.63" stroke="#ff2222" stroke-width="1.1" fill="none" stroke-linejoin="round"/>
<polyline points="21.2,318.6 21.69,316.96 22.18,315.25 22.67,313.5 23.16,311.7 23.64,309.85 24.13,307.85 24.62,305.66 25.11,303.67 25.6,302.23 26.09,301.22 26.58,300.33 27.07,299.28 27.56,297.73 28.04,295.81 28.53,293.87 29.02,292.23 29.51,291.24 30,290.74 30.49,290.36 30.98,289.86 31.47,288.9 31.95,287.38 32.44,285.64 32.93,284.03 33.42,282.34 33.91,280.59 34.4,279 34.89,277.82 35.38,277.12 35.87,276.64 36.35,276.26 36.84,275.9 37.33,275.43 37.82,274.78 38.31,273.7 38.8,272.15 39.29,270.32 39.78,268.41 40.27,266.47 40.75,264.17 41.24,261.8 41.73,259.71 42.22,258.24 42.71,257.27 43.2,256.5 43.69,255.76 44.18,254.88 44.67,253.73 45.15,252.41 45.64,251.05 46.13,249.82 46.62,248.87 47.11,248.17 47.6,247.47 48.09,246.52 48.58,245.31 49.06,243.94 49.55,242.51 50.04,241.1 50.53,239.63 51.02,238.28 51.51,236.95 52,235.66 52.49,234.45 52.98,233.4 53.46,232.53 53.95,231.85 54.44,231.29 54.93,230.76 55.42,230.19 55.91,229.53 56.4,228.69 56.89,227.71 57.38,226.67 57.86,225.61 58.35,224.61 58.84,223.69 59.33,222.79 59.82,221.91 60.31,221.05 60.8,220.22 61.29,219.4 61.77,218.51 62.26,217.63 62.75,216.86 63.24,216.29 63.73,216.01 64.22,215.86 64.71,215.77 65.2,215.68 65.69,215.56 66.17,215.38 66.66,214.84 67.15,213.83 67.64,212.6 68.13,211.34 68.62,210.28 69.11,209.42 69.6,208.63 70.09,207.86 70.57,207.11 71.06,206.22 71.55,205.38 72.04,205.12 72.53,205.51 73.02,206.32 73.51,207.43 74,208.68 74.49,209.91 74.97,210.97 75.46,211.72 75.95,212 76.44,211.62 76.93,210.61 77.42,209.15 77.91,207.44 78.4,205.65 78.88,203.97 79.37,202.58 79.86,201.68 80.35,201.46 80.84,202.05 81.33,203.31 81.82,205.01 82.31,206.91 82.8,208.8 83.28,210.42 83.77,211.57 84.26,212 84.75,211.09 85.24,208.9 85.73,206.22 86.22,203.86 86.71,202.63 87.2,202.85 87.68,203.82 88.17,205.26 88.66,206.94 89.15,208.61 89.64,210.05 90.13,211.02 90.62,211.26 91.11,210.61 91.6,209.22 92.08,207.34 92.57,205.25 93.06,203.18 93.55,201.38 94.04,200.12 94.53,199.64 95.02,200.13 95.51,201.43 95.99,203.26 96.48,205.39 96.97,207.54 97.46,209.46 97.95,210.88 98.44,211.55 98.93,211.27 99.42,210.2 99.91,208.59 100.39,206.7 100.88,204.78 101.37,203.1 101.86,201.9 102.35,201.44 102.84,201.97 103.33,203.35 103.82,205.25 104.31,207.34 104.79,209.31 105.28,210.82 105.77,211.55 106.26,211.29 106.75,210.28 107.24,208.74 107.73,206.9 108.22,205 108.7,203.25 109.19,201.89 109.68,201.15 110.17,201.55 110.66,203.93 111.15,207.17 111.64,210.05 112.13,211.28 112.62,210.84 113.1,209.81 113.59,208.64 114.08,207.79 114.57,207.74 115.06,208.85 115.55,210.49 116.04,211.91 116.53,212.33 117.02,211.37 117.5,209.41 117.99,206.89 118.48,204.28 118.97,202.04 119.46,200.63 119.95,200.62 120.44,203.04 120.93,206.73 121.42,210.1 121.9,211.57 122.39,211.16 122.88,210.08 123.37,208.59 123.86,206.94 124.35,205.35 124.84,204.08 125.33,203.38 125.81,203.55 126.3,204.78 126.79,206.58 127.28,208.37 127.77,209.6 128.26,209.79 128.75,209.21 129.24,208.18 129.73,206.94 130.21,205.69 130.7,204.67 131.19,204.08 131.68,204.29 132.17,205.66 132.66,207.65 133.15,209.64 133.64,211.02 134.13,211.16 134.61,209.95 135.1,207.91 135.59,205.6 136.08,203.56 136.57,202.35 137.06,202.32 137.55,202.85 138.04,203.76 138.53,204.95 139.01,206.32 139.5,207.77 139.99,209.19 140.48,210.5 140.97,211.59 141.46,212.36 141.95,212.71 142.44,212.59 142.92,212.11 143.41,211.33 143.9,210.33 144.39,209.18 144.88,207.96 145.37,206.73 145.86,205.56 146.35,204.52 146.84,203.7 147.32,203.15 147.81,202.95 148.3,203.29 148.79,204.19 149.28,205.48 149.77,206.96 150.26,208.47 150.75,209.8 151.24,210.8 151.72,211.27 152.21,211.07 152.7,210.3 153.19,209.13 153.68,207.73 154.17,206.28 154.66,204.96 155.15,203.93 155.63,203.36 156.12,203.51 156.61,204.58 157.1,206.22 157.59,208.01 158.08,209.56 158.57,210.47 159.06,210.35 159.55,209.18 160.03,207.34 160.52,205.21 161.01,203.14 161.5,201.53 161.99,200.74 162.48,201.2 162.97,202.85 163.46,205.23 163.95,207.85 164.43,210.23 164.92,211.88 165.41,212.34 165.9,211.59 166.39,210.04 166.88,208 167.37,205.8 167.86,203.76 168.35,202.21 168.83,201.46 169.32,201.86 169.81,203.34 170.3,205.47 170.79,207.83 171.28,209.95 171.77,211.43 172.26,211.83 172.74,210.89 173.23,208.95 173.72,206.44 174.21,203.8 174.7,201.47 175.19,199.88 175.68,199.46 176.17,200.53 176.66,202.73 177.14,205.5 177.63,208.32 178.12,210.67 178.61,212.01 179.1,211.96 179.59,210.95 180.08,209.29 180.57,207.24 181.06,205.05 181.54,203 182.03,201.34 182.52,200.33 183.01,200.27 183.5,201.46 183.99,203.57 184.48,206.14 184.97,208.72 185.46,210.83 185.94,212.02 186.43,211.98 186.92,211.1 187.41,209.65 187.9,207.85 188.39,205.94 188.88,204.15 189.37,202.7 189.85,201.81 190.34,201.81 190.83,203.27 191.32,205.66 191.81,208.21 192.3,210.13 192.79,210.68 193.28,210.02 193.77,208.62 194.25,206.78 194.74,204.79 195.23,202.96 195.72,201.55 196.21,200.89 196.7,201.36 197.19,203.07 197.68,205.46 198.17,207.96 198.65,210 199.14,211.03 199.63,210.81 200.12,209.86 200.61,208.43 201.1,206.72 201.59,204.95 202.08,203.31 202.56,202.05 203.05,201.36 203.54,201.57 204.03,203.01 204.52,205.23 205.01,207.71 205.5,209.93 205.99,211.37 206.48,211.58 206.96,210.95 207.45,209.79 207.94,208.27 208.43,206.58 208.92,204.88 209.41,203.36 209.9,202.2 210.39,201.57 210.88,201.66 211.36,202.5 211.85,203.89 212.34,205.59 212.83,207.42 213.32,209.12 213.81,210.51 214.3,211.35 214.79,211.45 215.28,210.91 215.76,209.89 216.25,208.57 216.74,207.06 217.23,205.53 217.72,204.11 218.21,202.96 218.7,202.22 219.19,202.04 219.67,202.85 220.16,204.46 220.65,206.46 221.14,208.41 221.63,209.9 222.12,210.49 222.61,210.16 223.1,209.28 223.59,208 224.07,206.47 224.56,204.85 225.05,203.29 225.54,201.94 226.03,200.97 226.52,200.52 227.01,201.03 227.5,202.85 227.99,205.42 228.47,208.16 228.96,210.51 229.45,211.86 229.94,211.88 230.43,211.24 230.92,210.15 231.41,208.78 231.9,207.26 232.38,205.74 232.87,204.36 233.36,203.28 233.85,202.63 234.34,202.68 234.83,204.23 235.32,206.74 235.81,209.33 236.3,211.14 236.78,211.44 237.27,210.88 237.76,209.84 238.25,208.52 238.74,207.07 239.23,205.68 239.72,204.51 240.21,203.74 240.7,203.57 241.18,204.94 241.67,207.57 242.16,210.55 242.65,213 243.14,214.01 243.63,213.65 244.12,212.68 244.61,211.27 245.1,209.59 245.58,207.8 246.07,206.09 246.56,204.61 247.05,203.53 247.54,203.03 248.03,203.38 248.52,204.66 249.01,206.55 249.49,208.7 249.98,210.79 250.47,212.47 250.96,213.41 251.45,213.49 251.94,213.34 252.43,213.02 252.92,212.52 253.41,211.8 253.89,210.84 254.38,209.61 254.87,208.08 255.36,206.22 255.85,204.03" stroke="#3333ff" stroke-width="1.0" fill="none" stroke-linejoin="round"/>
<path d="M110.62 249.55H124.72" stroke="#f04848" stroke-width="0.9"/>
<path d="M110.62 258.15H124.72" stroke="#7474e4" stroke-width="1.4"/>
<text transform="translate(129.72 251.55) scale(1 0.92)" style="font-family:'IPAGothic','Liberation Mono',monospace;font-size:6.5px;stroke:#262626;stroke-width:0.26px" fill="#262626">Measurement</text>
<text transform="translate(129.72 260.5) scale(1 0.92)" style="font-family:'IPAGothic','Liberation Mono',monospace;font-size:6.5px;stroke:#262626;stroke-width:0.26px" fill="#262626">CNN-LSTMNN</text>
<rect x="21.2" y="189.3" width="234.65" height="129.3" stroke="#a8a8a8" stroke-width="1.15" fill="none"/>
<path d="M21.2 318.6v1.5M40.75 318.6v1.5M60.31 318.6v1.5M79.86 318.6v1.5M99.42 318.6v1.5M118.97 318.6v1.5M138.53 318.6v1.5M158.08 318.6v1.5M177.63 318.6v1.5M197.19 318.6v1.5M216.74 318.6v1.5M236.3 318.6v1.5M255.85 318.6v1.5M21.2 318.6h-1.5M21.2 282.68h-1.5M21.2 246.77h-1.5M21.2 210.85h-1.5" stroke="#a8a8a8" stroke-width="0.8"/>
<text transform="translate(21.2 326.45) scale(0.88 1)" text-anchor="middle" style="font-family:'Liberation Sans',Arial,sans-serif;font-size:6.3px;stroke:#262626;stroke-width:0.08px" fill="#262626">0</text>
<text transform="translate(40.75 326.45) scale(0.88 1)" text-anchor="middle" style="font-family:'Liberation Sans',Arial,sans-serif;font-size:6.3px;stroke:#262626;stroke-width:0.08px" fill="#262626">20</text>
<text transform="translate(60.31 326.45) scale(0.88 1)" text-anchor="middle" style="font-family:'Liberation Sans',Arial,sans-serif;font-size:6.3px;stroke:#262626;stroke-width:0.08px" fill="#262626">40</text>
<text transform="translate(79.86 326.45) scale(0.88 1)" text-anchor="middle" style="font-family:'Liberation Sans',Arial,sans-serif;font-size:6.3px;stroke:#262626;stroke-width:0.08px" fill="#262626">60</text>
<text transform="translate(99.42 326.45) scale(0.88 1)" text-anchor="middle" style="font-family:'Liberation Sans',Arial,sans-serif;font-size:6.3px;stroke:#262626;stroke-width:0.08px" fill="#262626">80</text>
<text transform="translate(118.97 326.45) scale(0.88 1)" text-anchor="middle" style="font-family:'Liberation Sans',Arial,sans-serif;font-size:6.3px;stroke:#262626;stroke-width:0.08px" fill="#262626">100</text>
<text transform="translate(138.53 326.45) scale(0.88 1)" text-anchor="middle" style="font-family:'Liberation Sans',Arial,sans-serif;font-size:6.3px;stroke:#262626;stroke-width:0.08px" fill="#262626">120</text>
<text transform="translate(158.08 326.45) scale(0.88 1)" text-anchor="middle" style="font-family:'Liberation Sans',Arial,sans-serif;font-size:6.3px;stroke:#262626;stroke-width:0.08px" fill="#262626">140</text>
<text transform="translate(177.63 326.45) scale(0.88 1)" text-anchor="middle" style="font-family:'Liberation Sans',Arial,sans-serif;font-size:6.3px;stroke:#262626;stroke-width:0.08px" fill="#262626">160</text>
<text transform="translate(197.19 326.45) scale(0.88 1)" text-anchor="middle" style="font-family:'Liberation Sans',Arial,sans-serif;font-size:6.3px;stroke:#262626;stroke-width:0.08px" fill="#262626">180</text>
<text transform="translate(216.74 326.45) scale(0.88 1)" text-anchor="middle" style="font-family:'Liberation Sans',Arial,sans-serif;font-size:6.3px;stroke:#262626;stroke-width:0.08px" fill="#262626">200</text>
<text transform="translate(236.3 326.45) scale(0.88 1)" text-anchor="middle" style="font-family:'Liberation Sans',Arial,sans-serif;font-size:6.3px;stroke:#262626;stroke-width:0.08px" fill="#262626">220</text>
<text transform="translate(255.85 326.45) scale(0.88 1)" text-anchor="middle" style="font-family:'Liberation Sans',Arial,sans-serif;font-size:6.3px;stroke:#262626;stroke-width:0.08px" fill="#262626">240</text>
<text transform="translate(18.3 321.4) scale(0.88 1)" text-anchor="end" style="font-family:'Liberation Sans',Arial,sans-serif;font-size:6.3px;stroke:#262626;stroke-width:0.08px" fill="#262626">0</text>
<text transform="translate(18.3 285.48) scale(0.88 1)" text-anchor="end" style="font-family:'Liberation Sans',Arial,sans-serif;font-size:6.3px;stroke:#262626;stroke-width:0.08px" fill="#262626">5</text>
<text transform="translate(18.3 249.57) scale(0.88 1)" text-anchor="end" style="font-family:'Liberation Sans',Arial,sans-serif;font-size:6.3px;stroke:#262626;stroke-width:0.08px" fill="#262626">10</text>
<text transform="translate(18.3 213.65) scale(0.88 1)" text-anchor="end" style="font-family:'Liberation Sans',Arial,sans-serif;font-size:6.3px;stroke:#262626;stroke-width:0.08px" fill="#262626">15</text>
<text transform="translate(138.53 333) scale(1 0.92)" text-anchor="middle" style="font-family:'IPAGothic','Liberation Mono',monospace;font-size:6.5px;stroke:#262626;stroke-width:0.26px" fill="#262626">Time/min</text>
<text transform="translate(8.9 254.55) rotate(-90) scale(1 0.92)" text-anchor="middle" style="font-family:'IPAGothic','Liberation Mono',monospace;font-size:6.5px;stroke:#262626;stroke-width:0.26px" fill="#262626">Thermal error/μm</text>
<text x="135.22" y="345.95" text-anchor="middle" style="font-family:'Liberation Serif','Times New Roman',serif;font-size:8.3px;letter-spacing:0.7px;stroke:#262626;stroke-width:0.15px" fill="#262626">(c)</text></g>
<g><path d="M317.07 189.3V318.6M326.84 189.3V318.6M336.61 189.3V318.6M346.38 189.3V318.6M356.15 189.3V318.6M365.93 189.3V318.6M375.7 189.3V318.6M385.47 189.3V318.6M395.24 189.3V318.6M405.01 189.3V318.6M414.78 189.3V318.6M424.55 189.3V318.6M434.32 189.3V318.6M444.09 189.3V318.6M453.86 189.3V318.6M463.63 189.3V318.6M473.4 189.3V318.6M483.17 189.3V318.6M492.95 189.3V318.6M502.72 189.3V318.6M512.49 189.3V318.6M522.26 189.3V318.6M532.03 189.3V318.6M307.3 300.64H541.8M307.3 282.68H541.8M307.3 264.73H541.8M307.3 246.77H541.8M307.3 228.81H541.8M307.3 210.85H541.8M307.3 192.89H541.8" stroke="#e6e6e6" stroke-width="0.8" fill="none"/>
<rect x="391.74" y="246.75" width="63.86" height="17.6" fill="#fff"/>
<polyline points="307.3,318.6 307.79,317.18 308.28,315.78 308.77,314.4 309.25,313.03 309.74,311.59 310.23,309.87 310.72,308.3 311.21,307.35 311.7,307.26 312.19,307.27 312.67,307.3 313.16,307.31 313.65,307.18 314.14,305.78 314.63,303.52 315.12,301.17 315.61,299.51 316.09,298.99 316.58,298.77 317.07,298.61 317.56,298.36 318.05,297.55 318.54,295.24 319.03,292.3 319.51,289.78 320,288.71 320.49,288.43 320.98,288.26 321.47,288.11 321.96,287.86 322.44,287.04 322.93,284.48 323.42,281.04 323.91,277.76 324.4,275.68 324.89,275.08 325.38,274.77 325.86,274.47 326.35,273.91 326.84,272.33 327.33,269.95 327.82,267.43 328.31,265.41 328.8,264.48 329.28,264.09 329.77,263.58 330.26,261.82 330.75,258.93 331.24,256.23 331.73,255.03 332.22,255.12 332.7,255.34 333.19,255.57 333.68,255.73 334.17,255.21 334.66,252.62 335.15,249.22 335.64,246.57 336.12,245.66 336.61,245.24 337.1,244.93 337.59,244.59 338.08,244.04 338.57,242.65 339.06,240.37 339.54,237.9 340.03,235.93 340.52,235.05 341.01,234.68 341.5,234.39 341.99,233.96 342.48,232.7 342.96,230.17 343.45,227.38 343.94,225.42 344.43,224.71 344.92,224.32 345.41,223.92 345.89,223.21 346.38,221.08 346.87,218.02 347.36,215.27 347.85,214.08 348.34,214.3 348.83,214.81 349.31,215.38 349.8,215.79 350.29,215.66 350.78,213.78 351.27,211.18 351.76,209.37 352.25,208.08 352.73,206.83 353.22,205.73 353.71,204.84 354.2,204.24 354.69,204.03 355.18,204.43 355.67,205.46 356.15,206.85 356.64,208.32 357.13,209.59 357.62,210.41 358.11,210.46 358.6,209.49 359.09,207.85 359.57,206.02 360.06,204.48 360.55,203.7 361.04,204.08 361.53,205.47 362.02,207.37 362.51,209.26 362.99,210.66 363.48,211.04 363.97,210.34 364.46,208.99 364.95,207.45 365.44,206.2 365.93,205.68 366.41,206.39 366.9,208.01 367.39,209.78 367.88,210.94 368.37,210.79 368.86,209.39 369.34,207.37 369.83,205.34 370.32,203.94 370.81,203.75 371.3,204.56 371.79,205.94 372.28,207.54 372.76,209 373.25,209.95 373.74,210.07 374.23,209.46 374.72,208.36 375.21,207.01 375.7,205.6 376.18,204.37 376.67,203.54 377.16,203.32 377.65,203.82 378.14,204.84 378.63,206.16 379.12,207.52 379.6,208.68 380.09,209.42 380.58,209.51 381.07,209.1 381.56,208.32 382.05,207.32 382.54,206.21 383.02,205.13 383.51,204.2 384,203.55 384.49,203.31 384.98,203.49 385.47,203.97 385.96,204.69 386.44,205.56 386.93,206.53 387.42,207.5 387.91,208.42 388.4,209.21 388.89,209.79 389.38,210.1 389.86,209.97 390.35,209.15 390.84,207.89 391.33,206.5 391.82,205.3 392.31,204.6 392.79,204.69 393.28,205.51 393.77,206.75 394.26,208.08 394.75,209.19 395.24,209.75 395.73,209.59 396.21,208.95 396.7,208.06 397.19,207.13 397.68,206.36 398.17,205.98 398.66,206.32 399.15,207.39 399.63,208.52 400.12,209.05 400.61,208.78 401.1,208.07 401.59,207.07 402.08,205.95 402.57,204.87 403.05,203.96 403.54,203.41 404.03,203.4 404.52,204.28 405.01,205.79 405.5,207.5 405.99,209.01 406.47,209.89 406.96,209.82 407.45,208.92 407.94,207.56 408.43,206.09 408.92,204.88 409.41,204.26 409.89,204.45 410.38,205.18 410.87,206.27 411.36,207.48 411.85,208.64 412.34,209.54 412.82,209.97 413.31,209.8 413.8,209.13 414.29,208.12 414.78,206.96 415.27,205.82 415.76,204.87 416.24,204.28 416.73,204.26 417.22,205.14 417.71,206.65 418.2,208.39 418.69,209.97 419.18,211.02 419.66,211.16 420.15,210.64 420.64,209.7 421.13,208.5 421.62,207.2 422.11,205.97 422.6,204.97 423.08,204.36 423.57,204.27 424.06,204.55 424.55,205.09 425.04,205.81 425.53,206.64 426.02,207.52 426.5,208.39 426.99,209.16 427.48,209.78 427.97,210.17 428.46,210.26 428.95,209.87 429.44,209.04 429.92,207.93 430.41,206.71 430.9,205.54 431.39,204.58 431.88,203.99 432.37,203.97 432.86,204.8 433.34,206.19 433.83,207.7 434.32,208.92 434.81,209.41 435.3,209.17 435.79,208.54 436.27,207.64 436.76,206.61 437.25,205.58 437.74,204.69 438.23,204.05 438.72,203.81 439.21,204.13 439.69,204.93 440.18,205.97 440.67,207 441.16,207.8 441.65,208.12 442.14,207.93 442.63,207.44 443.11,206.76 443.6,206.03 444.09,205.35 444.58,204.87 445.07,204.67 445.56,204.86 446.05,205.34 446.53,205.97 447.02,206.61 447.51,207.14 448,207.39 448.49,207.12 448.98,206.22 449.47,205.07 449.95,204.08 450.44,203.67 450.93,203.93 451.42,204.59 451.91,205.52 452.4,206.58 452.89,207.6 453.37,208.44 453.86,208.96 454.35,209.02 454.84,208.64 455.33,207.96 455.82,207.07 456.31,206.08 456.79,205.1 457.28,204.24 457.77,203.61 458.26,203.31 458.75,203.46 459.24,204 459.72,204.81 460.21,205.74 460.7,206.65 461.19,207.42 461.68,207.89 462.17,207.95 462.66,207.67 463.14,207.16 463.63,206.48 464.12,205.68 464.61,204.84 465.1,204.03 465.59,203.31 466.08,202.76 466.56,202.43 467.05,202.41 467.54,202.75 468.03,203.39 468.52,204.25 469.01,205.23 469.5,206.27 469.98,207.25 470.47,208.11 470.96,208.75 471.45,209.09 471.94,209.05 472.43,208.63 472.92,207.91 473.4,206.99 473.89,205.93 474.38,204.85 474.87,203.82 475.36,202.93 475.85,202.26 476.34,201.91 476.82,201.95 477.31,202.39 477.8,203.13 478.29,204.05 478.78,205.05 479.27,206.04 479.76,206.9 480.24,207.53 480.73,207.83 481.22,207.7 481.71,207.21 482.2,206.52 482.69,205.76 483.17,205.1 483.66,204.68 484.15,204.64 484.64,205 485.13,205.61 485.62,206.32 486.11,206.97 486.59,207.39 487.08,207.43 487.57,207.05 488.06,206.43 488.55,205.76 489.04,205.25 489.53,205.12 490.01,205.58 490.5,206.52 490.99,207.69 491.48,208.86 491.97,209.8 492.46,210.26 492.95,210.14 493.43,209.64 493.92,208.88 494.41,207.96 494.9,207.01 495.39,206.12 495.88,205.4 496.37,204.97 496.85,204.93 497.34,205.37 497.83,206.18 498.32,207.22 498.81,208.36 499.3,209.45 499.79,210.37 500.27,210.97 500.76,211.13 501.25,210.87 501.74,210.33 502.23,209.61 502.72,208.82 503.21,208.05 503.69,207.42 504.18,207.04 504.67,207.02 505.16,207.5 505.65,208.29 506.14,209.15 506.62,209.84 507.11,210.13 507.6,209.89 508.09,209.27 508.58,208.4 509.07,207.42 509.56,206.47 510.04,205.68 510.53,205.19 511.02,205.15 511.51,205.57 512,206.3 512.49,207.16 512.98,207.96 513.46,208.53 513.95,208.69 514.44,208.44 514.93,207.94 515.42,207.29 515.91,206.6 516.4,205.99 516.88,205.58 517.37,205.47 517.86,205.78 518.35,206.41 518.84,207.23 519.33,208.11 519.82,208.9 520.3,209.48 520.79,209.7 521.28,209.54 521.77,209.13 522.26,208.54 522.75,207.87 523.24,207.19 523.72,206.61 524.21,206.2 524.7,206.04 525.19,206.19 525.68,206.6 526.17,207.19 526.66,207.89 527.14,208.64 527.63,209.36 528.12,209.97 528.61,210.42 529.1,210.63 529.59,210.53 530.07,210.15 530.56,209.58 531.05,208.87 531.54,208.11 532.03,207.37 532.52,206.73 533.01,206.26 533.49,206.04 533.98,206.2 534.47,206.75 534.96,207.55 535.45,208.44 535.94,209.28 536.43,209.89 536.91,210.13 537.4,209.84 537.89,209.13 538.38,208.25 538.87,207.44 539.36,206.95 539.85,206.97 540.33,207.41 540.82,208.2 541.31,209.28 541.8,210.63" stroke="#ff2222" stroke-width="1.1" fill="none" stroke-linejoin="round"/>
<polyline points="307.3,318.6 307.79,316.77 308.28,314.84 308.77,312.83 309.25,310.76 309.74,308.57 310.23,306.07 310.72,303.59 311.21,301.58 311.7,300 312.19,298.62 312.67,297.53 313.16,296.82 313.65,296.43 314.14,295.9 314.63,294.54 315.12,292.37 315.61,290.01 316.09,287.86 316.58,285.66 317.07,283.95 317.56,282.76 318.05,281.68 318.54,280.35 319.03,278.06 319.51,275.79 320,274.92 320.49,274.36 320.98,273.82 321.47,272.99 321.96,271.54 322.44,269.63 322.93,267.57 323.42,265.69 323.91,264.29 324.4,263.4 324.89,262.69 325.38,262.07 325.86,261.42 326.35,260.61 326.84,259.51 327.33,258.12 327.82,256.54 328.31,254.93 328.8,253.38 329.28,251.94 329.77,250.44 330.26,248.93 330.75,247.54 331.24,246.38 331.73,245.55 332.22,244.97 332.7,244.51 333.19,244.1 333.68,243.68 334.17,243.18 334.66,242.61 335.15,241.99 335.64,241.26 336.12,240.3 336.61,238.82 337.1,236.95 337.59,234.92 338.08,232.98 338.57,231.38 339.06,230.3 339.54,229.48 340.03,228.79 340.52,228.17 341.01,227.59 341.5,227 341.99,226.36 342.48,225.68 342.96,225.03 343.45,224.39 343.94,223.74 344.43,223.06 344.92,222.33 345.41,221.51 345.89,220.6 346.38,219.4 346.87,217.74 347.36,215.92 347.85,214.25 348.34,213.06 348.83,212.52 349.31,212.21 349.8,211.96 350.29,211.65 350.78,211.21 351.27,210.7 351.76,210.11 352.25,209.47 352.73,208.8 353.22,208.09 353.71,207.37 354.2,206.65 354.69,205.95 355.18,205.24 355.67,204.39 356.15,203.44 356.64,202.49 357.13,201.61 357.62,200.86 358.11,200.33 358.6,200.08 359.09,200.36 359.57,201.42 360.06,203.05 360.55,205.05 361.04,207.19 361.53,209.26 362.02,211.07 362.51,212.38 362.99,212.98 363.48,212.85 363.97,212.27 364.46,211.32 364.95,210.11 365.44,208.72 365.93,207.23 366.41,205.74 366.9,204.31 367.39,203.06 367.88,202.06 368.37,201.4 368.86,201.15 369.34,201.64 369.83,202.93 370.32,204.75 370.81,206.86 371.3,209 371.79,210.9 372.28,212.32 372.76,212.98 373.25,212.8 373.74,212.04 374.23,210.83 374.72,209.31 375.21,207.6 375.7,205.85 376.18,204.17 376.67,202.7 377.16,201.57 377.65,200.91 378.14,200.91 378.63,202.09 379.12,204.16 379.6,206.65 380.09,209.1 380.58,211.02 381.07,211.97 381.56,211.81 382.05,211.07 382.54,209.92 383.02,208.47 383.51,206.85 384,205.18 384.49,203.58 384.98,202.18 385.47,201.1 385.96,200.48 386.44,200.47 386.93,201.53 387.42,203.45 387.91,205.87 388.4,208.44 388.89,210.79 389.38,212.56 389.86,213.41 390.35,213.26 390.84,212.58 391.33,211.5 391.82,210.13 392.31,208.57 392.79,206.93 393.28,205.3 393.77,203.8 394.26,202.54 394.75,201.61 395.24,201.12 395.73,201.27 396.21,202.29 396.7,203.97 397.19,206.03 397.68,208.2 398.17,210.2 398.66,211.78 399.15,212.63 399.63,212.58 400.12,211.81 400.61,210.51 401.1,208.83 401.59,206.94 402.08,205.01 402.57,203.19 403.05,201.64 403.54,200.53 404.03,200.02 404.52,200.36 405.01,201.62 405.5,203.54 405.99,205.82 406.47,208.2 406.96,210.38 407.45,212.06 407.94,212.98 408.43,212.88 408.92,211.82 409.41,210.07 409.89,207.9 410.38,205.61 410.87,203.44 411.36,201.69 411.85,200.63 412.34,200.56 412.82,201.89 413.31,204.21 413.8,207.04 414.29,209.87 414.78,212.2 415.27,213.52 415.76,213.52 416.24,212.75 416.73,211.44 417.22,209.74 417.71,207.8 418.2,205.76 418.69,203.79 419.18,202.02 419.66,200.63 420.15,199.74 420.64,199.52 421.13,200.3 421.62,201.94 422.11,204.16 422.6,206.65 423.08,209.1 423.57,211.23 424.06,212.72 424.55,213.29 425.04,212.75 425.53,211.34 426.02,209.32 426.5,206.99 426.99,204.64 427.48,202.54 427.97,200.98 428.46,200.24 428.95,200.74 429.44,202.54 429.92,205.14 430.41,208.01 430.9,210.61 431.39,212.42 431.88,212.92 432.37,212.49 432.86,211.55 433.34,210.2 433.83,208.57 434.32,206.78 434.81,204.93 435.3,203.16 435.79,201.58 436.27,200.3 436.76,199.45 437.25,199.14 437.74,199.95 438.23,202.02 438.72,204.82 439.21,207.84 439.69,210.55 440.18,212.41 440.67,212.91 441.16,212.27 441.65,210.85 442.14,208.89 442.63,206.59 443.11,204.17 443.6,201.83 444.09,199.78 444.58,198.24 445.07,197.42 445.56,197.63 446.05,199.13 446.53,201.53 447.02,204.3 447.51,206.99 448,209.08 448.49,210.1 448.98,209.91 449.47,209.06 449.95,207.73 450.44,206.06 450.93,204.19 451.42,202.26 451.91,200.41 452.4,198.8 452.89,197.55 453.37,196.83 453.86,196.81 454.35,197.88 454.84,199.87 455.33,202.41 455.82,205.19 456.31,207.87 456.79,210.11 457.28,211.59 457.77,211.98 458.26,211.63 458.75,210.81 459.24,209.64 459.72,208.21 460.21,206.62 460.7,204.95 461.19,203.29 461.68,201.76 462.17,200.42 462.66,199.39 463.14,198.74 463.63,198.61 464.12,199.96 464.61,202.66 465.1,205.95 465.59,209.1 466.08,211.35 466.56,211.98 467.05,211.57 467.54,210.65 468.03,209.33 468.52,207.75 469.01,206 469.5,204.21 469.98,202.48 470.47,200.94 470.96,199.7 471.45,198.87 471.94,198.57 472.43,199.14 472.92,200.66 473.4,202.82 473.89,205.28 474.38,207.75 474.87,209.9 475.36,211.42 475.85,212 476.34,211.62 476.82,210.58 477.31,209.07 477.8,207.24 478.29,205.28 478.78,203.36 479.27,201.63 479.76,200.29 480.24,199.5 480.73,199.48 481.22,200.74 481.71,202.97 482.2,205.74 482.69,208.61 483.17,211.12 483.66,212.81 484.15,213.28 484.64,212.72 485.13,211.55 485.62,209.97 486.11,208.19 486.59,206.44 487.08,204.92 487.57,203.85 488.06,203.45 488.55,203.88 489.04,205.03 489.53,206.65 490.01,208.54 490.5,210.44 490.99,212.14 491.48,213.4 491.97,213.99 492.46,213.84 492.95,213.21 493.43,212.17 493.92,210.83 494.41,209.28 494.9,207.59 495.39,205.85 495.88,204.16 496.37,202.61 496.85,201.27 497.34,200.23 497.83,199.6 498.32,199.46 498.81,200.36 499.3,202.22 499.79,204.68 500.27,207.32 500.76,209.78 501.25,211.65 501.74,212.55 502.23,212.33 502.72,211.45 503.21,210.11 503.69,208.52 504.18,206.86 504.67,205.34 505.16,204.16 505.65,203.52 506.14,203.6 506.62,204.42 507.11,205.78 507.6,207.48 508.09,209.32 508.58,211.1 509.07,212.62 509.56,213.69 510.04,214.08 510.53,213.9 511.02,213.37 511.51,212.57 512,211.55 512.49,210.35 512.98,209.05 513.46,207.69 513.95,206.33 514.44,205.02 514.93,203.83 515.42,202.8 515.91,202.01 516.4,201.48 516.88,201.3 517.37,202.02 517.86,203.87 518.35,206.39 518.84,209.09 519.33,211.51 519.82,213.18 520.3,213.64 520.79,213.23 521.28,212.34 521.77,211.06 522.26,209.51 522.75,207.81 523.24,206.07 523.72,204.39 524.21,202.89 524.7,201.68 525.19,200.87 525.68,200.58 526.17,201.13 526.66,202.58 527.14,204.66 527.63,207.05 528.12,209.47 528.61,211.63 529.1,213.23 529.59,213.99 530.07,213.71 530.56,212.62 531.05,210.92 531.54,208.85 532.03,206.63 532.52,204.46 533.01,202.6 533.49,201.23 533.98,200.6 534.47,201.02 534.96,202.57 535.45,204.9 535.94,207.57 536.43,210.2 536.91,212.4 537.4,213.76 537.89,213.99 538.38,213.71 538.87,213.1 539.36,212.14 539.85,210.8 540.33,209.08 540.82,206.93 541.31,204.34 541.8,201.3" stroke="#3333ff" stroke-width="1.0" fill="none" stroke-linejoin="round"/>
<path d="M396.64 249.55H410.74" stroke="#f04848" stroke-width="0.9"/>
<path d="M396.64 258.15H410.74" stroke="#7474e4" stroke-width="1.4"/>
<text transform="translate(415.74 251.55) scale(1 0.92)" style="font-family:'IPAGothic','Liberation Mono',monospace;font-size:6.5px;stroke:#262626;stroke-width:0.26px" fill="#262626">Measurement</text>
<text transform="translate(415.74 260.5) scale(1 0.92)" style="font-family:'IPAGothic','Liberation Mono',monospace;font-size:6.5px;stroke:#262626;stroke-width:0.26px" fill="#262626">LSTMNN</text>
<rect x="307.3" y="189.3" width="234.5" height="129.3" stroke="#a8a8a8" stroke-width="1.15" fill="none"/>
<path d="M307.3 318.6v1.5M326.84 318.6v1.5M346.38 318.6v1.5M365.93 318.6v1.5M385.47 318.6v1.5M405.01 318.6v1.5M424.55 318.6v1.5M444.09 318.6v1.5M463.63 318.6v1.5M483.17 318.6v1.5M502.72 318.6v1.5M522.26 318.6v1.5M541.8 318.6v1.5M307.3 318.6h-1.5M307.3 282.68h-1.5M307.3 246.77h-1.5M307.3 210.85h-1.5" stroke="#a8a8a8" stroke-width="0.8"/>
<text transform="translate(307.3 326.45) scale(0.88 1)" text-anchor="middle" style="font-family:'Liberation Sans',Arial,sans-serif;font-size:6.3px;stroke:#262626;stroke-width:0.08px" fill="#262626">0</text>
<text transform="translate(326.84 326.45) scale(0.88 1)" text-anchor="middle" style="font-family:'Liberation Sans',Arial,sans-serif;font-size:6.3px;stroke:#262626;stroke-width:0.08px" fill="#262626">20</text>
<text transform="translate(346.38 326.45) scale(0.88 1)" text-anchor="middle" style="font-family:'Liberation Sans',Arial,sans-serif;font-size:6.3px;stroke:#262626;stroke-width:0.08px" fill="#262626">40</text>
<text transform="translate(365.93 326.45) scale(0.88 1)" text-anchor="middle" style="font-family:'Liberation Sans',Arial,sans-serif;font-size:6.3px;stroke:#262626;stroke-width:0.08px" fill="#262626">60</text>
<text transform="translate(385.47 326.45) scale(0.88 1)" text-anchor="middle" style="font-family:'Liberation Sans',Arial,sans-serif;font-size:6.3px;stroke:#262626;stroke-width:0.08px" fill="#262626">80</text>
<text transform="translate(405.01 326.45) scale(0.88 1)" text-anchor="middle" style="font-family:'Liberation Sans',Arial,sans-serif;font-size:6.3px;stroke:#262626;stroke-width:0.08px" fill="#262626">100</text>
<text transform="translate(424.55 326.45) scale(0.88 1)" text-anchor="middle" style="font-family:'Liberation Sans',Arial,sans-serif;font-size:6.3px;stroke:#262626;stroke-width:0.08px" fill="#262626">120</text>
<text transform="translate(444.09 326.45) scale(0.88 1)" text-anchor="middle" style="font-family:'Liberation Sans',Arial,sans-serif;font-size:6.3px;stroke:#262626;stroke-width:0.08px" fill="#262626">140</text>
<text transform="translate(463.63 326.45) scale(0.88 1)" text-anchor="middle" style="font-family:'Liberation Sans',Arial,sans-serif;font-size:6.3px;stroke:#262626;stroke-width:0.08px" fill="#262626">160</text>
<text transform="translate(483.17 326.45) scale(0.88 1)" text-anchor="middle" style="font-family:'Liberation Sans',Arial,sans-serif;font-size:6.3px;stroke:#262626;stroke-width:0.08px" fill="#262626">180</text>
<text transform="translate(502.72 326.45) scale(0.88 1)" text-anchor="middle" style="font-family:'Liberation Sans',Arial,sans-serif;font-size:6.3px;stroke:#262626;stroke-width:0.08px" fill="#262626">200</text>
<text transform="translate(522.26 326.45) scale(0.88 1)" text-anchor="middle" style="font-family:'Liberation Sans',Arial,sans-serif;font-size:6.3px;stroke:#262626;stroke-width:0.08px" fill="#262626">220</text>
<text transform="translate(541.8 326.45) scale(0.88 1)" text-anchor="middle" style="font-family:'Liberation Sans',Arial,sans-serif;font-size:6.3px;stroke:#262626;stroke-width:0.08px" fill="#262626">240</text>
<text transform="translate(304.4 321.4) scale(0.88 1)" text-anchor="end" style="font-family:'Liberation Sans',Arial,sans-serif;font-size:6.3px;stroke:#262626;stroke-width:0.08px" fill="#262626">0</text>
<text transform="translate(304.4 285.48) scale(0.88 1)" text-anchor="end" style="font-family:'Liberation Sans',Arial,sans-serif;font-size:6.3px;stroke:#262626;stroke-width:0.08px" fill="#262626">5</text>
<text transform="translate(304.4 249.57) scale(0.88 1)" text-anchor="end" style="font-family:'Liberation Sans',Arial,sans-serif;font-size:6.3px;stroke:#262626;stroke-width:0.08px" fill="#262626">10</text>
<text transform="translate(304.4 213.65) scale(0.88 1)" text-anchor="end" style="font-family:'Liberation Sans',Arial,sans-serif;font-size:6.3px;stroke:#262626;stroke-width:0.08px" fill="#262626">15</text>
<text transform="translate(424.55 333) scale(1 0.92)" text-anchor="middle" style="font-family:'IPAGothic','Liberation Mono',monospace;font-size:6.5px;stroke:#262626;stroke-width:0.26px" fill="#262626">Time/min</text>
<text transform="translate(295 254.55) rotate(-90) scale(1 0.92)" text-anchor="middle" style="font-family:'IPAGothic','Liberation Mono',monospace;font-size:6.5px;stroke:#262626;stroke-width:0.26px" fill="#262626">Thermal error/μm</text>
<text x="421.25" y="345.95" text-anchor="middle" style="font-family:'Liberation Serif','Times New Roman',serif;font-size:8.3px;letter-spacing:0.7px;stroke:#262626;stroke-width:0.15px" fill="#262626">(d)</text></g>
</svg>
</body></html>
